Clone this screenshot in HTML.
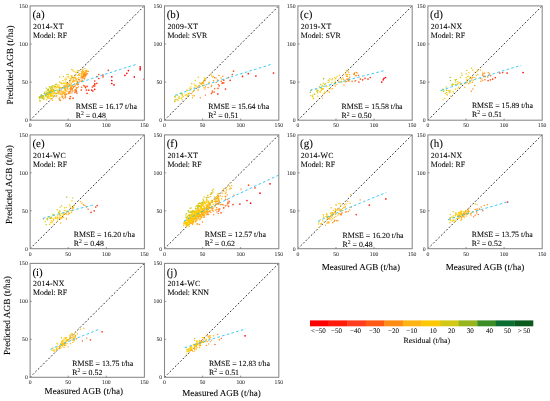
<!DOCTYPE html>
<html lang="en"><head><meta charset="utf-8"><title>AGB model scatter plots</title>
<style>html,body{margin:0;padding:0;background:#fff}svg{display:block}</style></head>
<body>
<svg width="550" height="401" viewBox="0 0 550 401" text-rendering="geometricPrecision" font-family="'Liberation Serif', 'Times New Roman', serif" fill="#000" stroke="#000" stroke-width="0.07" paint-order="stroke">
<rect width="550" height="401" fill="#fff" stroke="none"/>
<g>
<clipPath id="cpa"><rect x="30.1" y="5.9" width="114.3" height="114.3"/></clipPath>
<line x1="30.1" y1="120.2" x2="144.4" y2="5.9" stroke="#262626" stroke-width="0.95" stroke-dasharray="1.8 1.9"/>
<g stroke="none" clip-path="url(#cpa)"><circle cx="47.9" cy="89.7" r="0.72" fill="#d2c814"/><circle cx="51.6" cy="89.2" r="0.72" fill="#d2c814"/><circle cx="49.9" cy="93.5" r="0.72" fill="#ffc805"/><circle cx="42.4" cy="97.0" r="0.72" fill="#d2c814"/><circle cx="43.4" cy="96.2" r="0.72" fill="#d2c814"/><circle cx="51.3" cy="86.5" r="0.72" fill="#d2c814"/><circle cx="39.4" cy="98.4" r="0.72" fill="#d2c814"/><circle cx="50.6" cy="93.1" r="0.72" fill="#ffc805"/><circle cx="50.2" cy="91.1" r="0.72" fill="#d2c814"/><circle cx="45.7" cy="94.8" r="0.72" fill="#d2c814"/><circle cx="43.5" cy="96.1" r="0.72" fill="#d2c814"/><circle cx="43.1" cy="98.3" r="0.72" fill="#d2c814"/><circle cx="42.8" cy="96.0" r="0.72" fill="#d2c814"/><circle cx="45.4" cy="95.8" r="0.72" fill="#d2c814"/><circle cx="46.2" cy="91.1" r="0.72" fill="#d2c814"/><circle cx="46.9" cy="92.1" r="0.72" fill="#d2c814"/><circle cx="52.9" cy="91.0" r="0.72" fill="#ffc805"/><circle cx="50.2" cy="90.1" r="0.72" fill="#d2c814"/><circle cx="47.8" cy="94.5" r="0.72" fill="#d2c814"/><circle cx="52.9" cy="87.1" r="0.72" fill="#d2c814"/><circle cx="42.2" cy="96.3" r="0.72" fill="#d2c814"/><circle cx="41.5" cy="95.4" r="0.72" fill="#d2c814"/><circle cx="47.7" cy="97.3" r="0.72" fill="#ffc805"/><circle cx="39.9" cy="96.8" r="0.72" fill="#d2c814"/><circle cx="39.8" cy="100.5" r="0.72" fill="#d2c814"/><circle cx="46.4" cy="99.7" r="0.72" fill="#ffc805"/><circle cx="45.7" cy="95.3" r="0.72" fill="#d2c814"/><circle cx="51.9" cy="94.6" r="0.72" fill="#ffc805"/><circle cx="47.9" cy="92.9" r="0.72" fill="#d2c814"/><circle cx="46.3" cy="88.1" r="0.72" fill="#96b41e"/><circle cx="46.1" cy="96.6" r="0.72" fill="#d2c814"/><circle cx="42.7" cy="97.4" r="0.72" fill="#d2c814"/><circle cx="39.5" cy="97.3" r="0.72" fill="#d2c814"/><circle cx="41.9" cy="95.4" r="0.72" fill="#d2c814"/><circle cx="48.8" cy="93.5" r="0.72" fill="#d2c814"/><circle cx="42.0" cy="96.8" r="0.72" fill="#d2c814"/><circle cx="44.4" cy="93.5" r="0.72" fill="#d2c814"/><circle cx="39.3" cy="96.8" r="0.72" fill="#d2c814"/><circle cx="50.7" cy="95.5" r="0.72" fill="#ffc805"/><circle cx="41.4" cy="96.8" r="0.72" fill="#d2c814"/><circle cx="43.0" cy="95.8" r="0.72" fill="#d2c814"/><circle cx="51.4" cy="95.3" r="0.72" fill="#ffc805"/><circle cx="46.3" cy="93.5" r="0.72" fill="#d2c814"/><circle cx="50.9" cy="94.8" r="0.72" fill="#ffc805"/><circle cx="48.1" cy="90.5" r="0.72" fill="#d2c814"/><circle cx="49.5" cy="92.0" r="0.72" fill="#d2c814"/><circle cx="40.5" cy="96.9" r="0.72" fill="#d2c814"/><circle cx="46.7" cy="95.7" r="0.72" fill="#d2c814"/><circle cx="46.3" cy="94.6" r="0.72" fill="#d2c814"/><circle cx="51.2" cy="98.6" r="0.72" fill="#ffc805"/><circle cx="44.2" cy="98.0" r="0.72" fill="#d2c814"/><circle cx="47.5" cy="92.6" r="0.72" fill="#d2c814"/><circle cx="40.1" cy="101.3" r="0.72" fill="#d2c814"/><circle cx="44.6" cy="93.0" r="0.72" fill="#d2c814"/><circle cx="43.7" cy="99.6" r="0.72" fill="#ffc805"/><circle cx="41.4" cy="95.2" r="0.72" fill="#d2c814"/><circle cx="50.5" cy="94.9" r="0.72" fill="#ffc805"/><circle cx="44.5" cy="93.2" r="0.72" fill="#d2c814"/><circle cx="52.7" cy="90.5" r="0.72" fill="#ffc805"/><circle cx="47.4" cy="98.1" r="0.72" fill="#ffc805"/><circle cx="47.6" cy="89.9" r="0.72" fill="#d2c814"/><circle cx="48.0" cy="89.1" r="0.72" fill="#d2c814"/><circle cx="48.6" cy="93.3" r="0.72" fill="#d2c814"/><circle cx="41.4" cy="97.2" r="0.72" fill="#d2c814"/><circle cx="45.3" cy="95.1" r="0.72" fill="#d2c814"/><circle cx="42.6" cy="98.2" r="0.72" fill="#d2c814"/><circle cx="44.8" cy="92.2" r="0.72" fill="#d2c814"/><circle cx="40.6" cy="98.1" r="0.72" fill="#d2c814"/><circle cx="52.6" cy="91.3" r="0.72" fill="#ffc805"/><circle cx="42.2" cy="98.0" r="0.72" fill="#d2c814"/><circle cx="48.5" cy="95.0" r="0.72" fill="#ffc805"/><circle cx="43.4" cy="98.6" r="0.72" fill="#d2c814"/><circle cx="51.3" cy="87.4" r="0.72" fill="#d2c814"/><circle cx="48.4" cy="93.6" r="0.72" fill="#d2c814"/><circle cx="41.1" cy="94.9" r="0.72" fill="#d2c814"/><circle cx="54.9" cy="86.4" r="0.72" fill="#d2c814"/><circle cx="72.7" cy="76.1" r="0.72" fill="#ffc805"/><circle cx="68.6" cy="83.6" r="0.72" fill="#ffb414"/><circle cx="69.9" cy="92.2" r="0.72" fill="#ff8c14"/><circle cx="67.1" cy="85.6" r="0.72" fill="#ffb414"/><circle cx="78.0" cy="82.6" r="0.72" fill="#ff8c14"/><circle cx="57.6" cy="85.7" r="0.72" fill="#ffc805"/><circle cx="59.7" cy="77.0" r="0.72" fill="#d2c814"/><circle cx="53.4" cy="89.8" r="0.72" fill="#ffc805"/><circle cx="48.5" cy="95.5" r="0.72" fill="#ffc805"/><circle cx="53.7" cy="94.9" r="0.72" fill="#ffc805"/><circle cx="76.2" cy="79.1" r="0.72" fill="#ffb414"/><circle cx="73.8" cy="81.1" r="0.72" fill="#ffb414"/><circle cx="50.5" cy="96.0" r="0.72" fill="#ffc805"/><circle cx="66.2" cy="83.3" r="0.72" fill="#ffc805"/><circle cx="62.3" cy="91.7" r="0.72" fill="#ffb414"/><circle cx="65.9" cy="78.0" r="0.72" fill="#ffc805"/><circle cx="68.0" cy="76.9" r="0.72" fill="#ffc805"/><circle cx="56.7" cy="84.3" r="0.72" fill="#d2c814"/><circle cx="77.7" cy="81.3" r="0.72" fill="#ff8c14"/><circle cx="61.8" cy="83.7" r="0.72" fill="#ffc805"/><circle cx="67.0" cy="84.2" r="0.72" fill="#ffb414"/><circle cx="67.2" cy="85.6" r="0.72" fill="#ffb414"/><circle cx="52.8" cy="92.1" r="0.72" fill="#ffc805"/><circle cx="48.9" cy="97.0" r="0.72" fill="#ffc805"/><circle cx="60.1" cy="93.8" r="0.72" fill="#ffb414"/><circle cx="71.4" cy="76.3" r="0.72" fill="#ffc805"/><circle cx="73.0" cy="81.6" r="0.72" fill="#ffb414"/><circle cx="70.3" cy="80.5" r="0.72" fill="#ffb414"/><circle cx="50.5" cy="88.7" r="0.72" fill="#d2c814"/><circle cx="76.1" cy="90.6" r="0.72" fill="#ff5a14"/><circle cx="72.6" cy="85.6" r="0.72" fill="#ff8c14"/><circle cx="75.0" cy="78.2" r="0.72" fill="#ffb414"/><circle cx="63.7" cy="83.2" r="0.72" fill="#ffc805"/><circle cx="76.2" cy="81.3" r="0.72" fill="#ffb414"/><circle cx="48.4" cy="90.0" r="0.72" fill="#d2c814"/><circle cx="47.9" cy="92.8" r="0.72" fill="#d2c814"/><circle cx="47.6" cy="97.2" r="0.72" fill="#ffc805"/><circle cx="55.0" cy="93.4" r="0.72" fill="#ffc805"/><circle cx="54.9" cy="86.6" r="0.72" fill="#d2c814"/><circle cx="52.9" cy="89.1" r="0.72" fill="#d2c814"/><circle cx="65.1" cy="94.6" r="0.72" fill="#ff8c14"/><circle cx="48.2" cy="89.2" r="0.72" fill="#d2c814"/><circle cx="65.8" cy="80.9" r="0.72" fill="#ffc805"/><circle cx="52.2" cy="86.4" r="0.72" fill="#d2c814"/><circle cx="68.6" cy="84.9" r="0.72" fill="#ffb414"/><circle cx="47.6" cy="94.5" r="0.72" fill="#d2c814"/><circle cx="56.9" cy="93.5" r="0.72" fill="#ffb414"/><circle cx="76.9" cy="72.2" r="0.72" fill="#ffc805"/><circle cx="64.1" cy="85.9" r="0.72" fill="#ffc805"/><circle cx="72.9" cy="70.3" r="0.72" fill="#ffc805"/><circle cx="68.0" cy="86.7" r="0.72" fill="#ffb414"/><circle cx="66.5" cy="82.9" r="0.72" fill="#ffc805"/><circle cx="53.0" cy="97.0" r="0.72" fill="#ffc805"/><circle cx="65.3" cy="86.4" r="0.72" fill="#ffb414"/><circle cx="48.2" cy="90.3" r="0.72" fill="#d2c814"/><circle cx="72.6" cy="88.5" r="0.72" fill="#ff8c14"/><circle cx="77.6" cy="70.7" r="0.72" fill="#ffc805"/><circle cx="74.2" cy="77.5" r="0.72" fill="#ffb414"/><circle cx="48.5" cy="96.3" r="0.72" fill="#ffc805"/><circle cx="57.8" cy="90.5" r="0.72" fill="#ffc805"/><circle cx="57.1" cy="90.6" r="0.72" fill="#ffc805"/><circle cx="50.5" cy="92.2" r="0.72" fill="#ffc805"/><circle cx="67.0" cy="86.5" r="0.72" fill="#ffb414"/><circle cx="72.4" cy="85.9" r="0.72" fill="#ff8c14"/><circle cx="57.0" cy="90.0" r="0.72" fill="#ffc805"/><circle cx="74.5" cy="86.4" r="0.72" fill="#ff8c14"/><circle cx="72.4" cy="88.8" r="0.72" fill="#ff8c14"/><circle cx="51.0" cy="92.0" r="0.72" fill="#ffc805"/><circle cx="71.5" cy="75.7" r="0.72" fill="#ffc805"/><circle cx="75.2" cy="89.5" r="0.72" fill="#ff8c14"/><circle cx="53.2" cy="90.7" r="0.72" fill="#ffc805"/><circle cx="65.3" cy="87.9" r="0.72" fill="#ffb414"/><circle cx="67.4" cy="88.8" r="0.72" fill="#ffb414"/><circle cx="66.4" cy="79.1" r="0.72" fill="#ffc805"/><circle cx="50.0" cy="94.1" r="0.72" fill="#ffc805"/><circle cx="68.1" cy="74.4" r="0.72" fill="#d2c814"/><circle cx="67.1" cy="87.8" r="0.72" fill="#ffb414"/><circle cx="73.3" cy="77.8" r="0.72" fill="#ffb414"/><circle cx="72.6" cy="82.0" r="0.72" fill="#ffb414"/><circle cx="57.4" cy="91.7" r="0.72" fill="#ffc805"/><circle cx="70.0" cy="78.4" r="0.72" fill="#ffc805"/><circle cx="74.7" cy="80.5" r="0.72" fill="#ffb414"/><circle cx="75.5" cy="75.0" r="0.72" fill="#ffb414"/><circle cx="52.1" cy="91.4" r="0.72" fill="#ffc805"/><circle cx="47.8" cy="96.8" r="0.72" fill="#ffc805"/><circle cx="67.7" cy="83.7" r="0.72" fill="#ffb414"/><circle cx="53.8" cy="90.2" r="0.72" fill="#ffc805"/><circle cx="65.0" cy="79.5" r="0.72" fill="#ffc805"/><circle cx="77.2" cy="84.5" r="0.72" fill="#ff8c14"/><circle cx="59.1" cy="87.8" r="0.72" fill="#ffc805"/><circle cx="55.0" cy="96.6" r="0.72" fill="#ffb414"/><circle cx="61.5" cy="83.2" r="0.72" fill="#ffc805"/><circle cx="67.9" cy="89.2" r="0.72" fill="#ffb414"/><circle cx="50.1" cy="98.3" r="0.72" fill="#ffc805"/><circle cx="59.1" cy="87.9" r="0.72" fill="#ffc805"/><circle cx="51.2" cy="87.9" r="0.72" fill="#d2c814"/><circle cx="68.1" cy="91.7" r="0.72" fill="#ff8c14"/><circle cx="73.5" cy="87.2" r="0.72" fill="#ff8c14"/><circle cx="59.0" cy="91.0" r="0.72" fill="#ffc805"/><circle cx="58.8" cy="92.8" r="0.72" fill="#ffb414"/><circle cx="64.2" cy="83.0" r="0.72" fill="#ffc805"/><circle cx="53.8" cy="93.4" r="0.72" fill="#ffc805"/><circle cx="54.8" cy="92.7" r="0.72" fill="#ffc805"/><circle cx="57.5" cy="86.0" r="0.72" fill="#ffc805"/><circle cx="61.6" cy="90.0" r="0.72" fill="#ffb414"/><circle cx="49.5" cy="91.2" r="0.72" fill="#d2c814"/><circle cx="71.0" cy="87.4" r="0.72" fill="#ff8c14"/><circle cx="65.4" cy="90.8" r="0.72" fill="#ffb414"/><circle cx="56.5" cy="96.6" r="0.72" fill="#ffb414"/><circle cx="49.4" cy="86.7" r="0.72" fill="#d2c814"/><circle cx="71.3" cy="83.2" r="0.72" fill="#ffb414"/><circle cx="51.1" cy="90.9" r="0.72" fill="#d2c814"/><circle cx="51.2" cy="91.8" r="0.72" fill="#ffc805"/><circle cx="51.1" cy="91.2" r="0.72" fill="#d2c814"/><circle cx="49.5" cy="92.4" r="0.72" fill="#d2c814"/><circle cx="75.9" cy="72.2" r="0.72" fill="#ffc805"/><circle cx="55.5" cy="93.7" r="0.72" fill="#ffc805"/><circle cx="56.7" cy="95.4" r="0.72" fill="#ffb414"/><circle cx="73.6" cy="86.6" r="0.72" fill="#ff8c14"/><circle cx="66.8" cy="91.0" r="0.72" fill="#ffb414"/><circle cx="52.9" cy="88.1" r="0.72" fill="#d2c814"/><circle cx="60.8" cy="82.8" r="0.72" fill="#ffc805"/><circle cx="75.2" cy="85.7" r="0.72" fill="#ff8c14"/><circle cx="58.9" cy="94.0" r="0.72" fill="#ffb414"/><circle cx="69.7" cy="84.2" r="0.72" fill="#ffb414"/><circle cx="50.0" cy="87.8" r="0.72" fill="#d2c814"/><circle cx="70.2" cy="98.8" r="0.72" fill="#ff5a14"/><circle cx="71.8" cy="77.8" r="0.72" fill="#ffc805"/><circle cx="73.3" cy="87.1" r="0.72" fill="#ff8c14"/><circle cx="68.5" cy="76.7" r="0.72" fill="#ffc805"/><circle cx="58.8" cy="92.6" r="0.72" fill="#ffb414"/><circle cx="49.0" cy="93.8" r="0.72" fill="#ffc805"/><circle cx="63.5" cy="93.0" r="0.72" fill="#ffb414"/><circle cx="71.2" cy="87.4" r="0.72" fill="#ff8c14"/><circle cx="53.0" cy="85.7" r="0.72" fill="#d2c814"/><circle cx="55.4" cy="86.2" r="0.72" fill="#d2c814"/><circle cx="64.1" cy="87.1" r="0.72" fill="#ffb414"/><circle cx="70.9" cy="86.8" r="0.72" fill="#ffb414"/><circle cx="75.6" cy="91.8" r="0.72" fill="#ff5a14"/><circle cx="50.9" cy="93.2" r="0.72" fill="#ffc805"/><circle cx="52.8" cy="91.0" r="0.72" fill="#ffc805"/><circle cx="72.5" cy="81.2" r="0.72" fill="#ffb414"/><circle cx="67.5" cy="83.8" r="0.72" fill="#ffb414"/><circle cx="70.0" cy="88.7" r="0.72" fill="#ff8c14"/><circle cx="78.8" cy="77.8" r="0.72" fill="#ffb414"/><circle cx="77.0" cy="78.6" r="0.72" fill="#ffb414"/><circle cx="73.9" cy="71.5" r="0.72" fill="#ffc805"/><circle cx="71.8" cy="69.4" r="0.72" fill="#d2c814"/><circle cx="59.6" cy="88.0" r="0.72" fill="#ffc805"/><circle cx="67.4" cy="87.6" r="0.72" fill="#ffb414"/><circle cx="52.8" cy="91.1" r="0.72" fill="#ffc805"/><circle cx="71.2" cy="85.1" r="0.72" fill="#ffb414"/><circle cx="71.2" cy="85.9" r="0.72" fill="#ffb414"/><circle cx="70.0" cy="82.3" r="0.72" fill="#ffb414"/><circle cx="61.1" cy="91.6" r="0.72" fill="#ffb414"/><circle cx="59.0" cy="84.9" r="0.72" fill="#ffc805"/><circle cx="60.3" cy="87.5" r="0.72" fill="#ffc805"/><circle cx="48.0" cy="92.6" r="0.72" fill="#d2c814"/><circle cx="73.9" cy="81.1" r="0.72" fill="#ffb414"/><circle cx="64.3" cy="88.7" r="0.72" fill="#ffb414"/><circle cx="59.3" cy="91.8" r="0.72" fill="#ffb414"/><circle cx="64.5" cy="86.1" r="0.72" fill="#ffb414"/><circle cx="70.0" cy="85.2" r="0.72" fill="#ffb414"/><circle cx="59.1" cy="86.6" r="0.72" fill="#ffc805"/><circle cx="73.5" cy="80.2" r="0.72" fill="#ffb414"/><circle cx="76.3" cy="88.0" r="0.72" fill="#ff8c14"/><circle cx="59.3" cy="87.2" r="0.72" fill="#ffc805"/><circle cx="51.3" cy="96.3" r="0.72" fill="#ffc805"/><circle cx="71.2" cy="85.1" r="0.72" fill="#ffb414"/><circle cx="78.7" cy="79.5" r="0.72" fill="#ff8c14"/><circle cx="51.7" cy="98.8" r="0.72" fill="#ffb414"/><circle cx="69.7" cy="81.6" r="0.72" fill="#ffb414"/><circle cx="73.3" cy="79.2" r="0.72" fill="#ffb414"/><circle cx="76.4" cy="79.7" r="0.72" fill="#ffb414"/><circle cx="50.9" cy="93.3" r="0.72" fill="#ffc805"/><circle cx="49.9" cy="93.7" r="0.72" fill="#ffc805"/><circle cx="78.5" cy="84.5" r="0.72" fill="#ff8c14"/><circle cx="50.7" cy="92.9" r="0.72" fill="#ffc805"/><circle cx="52.6" cy="93.0" r="0.72" fill="#ffc805"/><circle cx="65.3" cy="83.9" r="0.72" fill="#ffc805"/><circle cx="61.2" cy="92.3" r="0.72" fill="#ffb414"/><circle cx="70.9" cy="80.0" r="0.72" fill="#ffb414"/><circle cx="53.0" cy="90.3" r="0.72" fill="#ffc805"/><circle cx="76.2" cy="79.7" r="0.72" fill="#ffb414"/><circle cx="53.9" cy="92.0" r="0.72" fill="#ffc805"/><circle cx="71.5" cy="77.7" r="0.72" fill="#ffc805"/><circle cx="49.1" cy="98.1" r="0.72" fill="#ffc805"/><circle cx="62.1" cy="83.8" r="0.72" fill="#ffc805"/><circle cx="48.0" cy="92.7" r="0.72" fill="#d2c814"/><circle cx="57.0" cy="87.5" r="0.72" fill="#ffc805"/><circle cx="56.9" cy="87.1" r="0.72" fill="#ffc805"/><circle cx="69.9" cy="85.9" r="0.72" fill="#ffb414"/><circle cx="61.5" cy="87.6" r="0.72" fill="#ffc805"/><circle cx="48.7" cy="91.0" r="0.72" fill="#d2c814"/><circle cx="78.8" cy="74.3" r="0.72" fill="#ffb414"/><circle cx="75.4" cy="77.8" r="0.72" fill="#ffb414"/><circle cx="76.2" cy="89.1" r="0.72" fill="#ff8c14"/><circle cx="54.8" cy="87.7" r="0.72" fill="#d2c814"/><circle cx="59.5" cy="82.0" r="0.72" fill="#d2c814"/><circle cx="54.2" cy="86.3" r="0.72" fill="#d2c814"/><circle cx="50.9" cy="91.1" r="0.72" fill="#d2c814"/><circle cx="48.0" cy="98.1" r="0.72" fill="#ffc805"/><circle cx="63.0" cy="80.8" r="0.72" fill="#ffc805"/><circle cx="50.9" cy="92.4" r="0.72" fill="#ffc805"/><circle cx="52.6" cy="100.2" r="0.72" fill="#ffb414"/><circle cx="74.5" cy="77.2" r="0.72" fill="#ffb414"/><circle cx="62.4" cy="93.3" r="0.72" fill="#ffb414"/><circle cx="52.8" cy="95.7" r="0.72" fill="#ffc805"/><circle cx="68.4" cy="86.5" r="0.72" fill="#ffb414"/><circle cx="55.4" cy="84.4" r="0.72" fill="#d2c814"/><circle cx="63.8" cy="87.1" r="0.72" fill="#ffb414"/><circle cx="56.0" cy="88.1" r="0.72" fill="#ffc805"/><circle cx="63.4" cy="76.4" r="0.72" fill="#d2c814"/><circle cx="67.0" cy="74.6" r="0.72" fill="#d2c814"/><circle cx="64.1" cy="85.6" r="0.72" fill="#ffc805"/><circle cx="59.6" cy="88.5" r="0.72" fill="#ffc805"/><circle cx="72.2" cy="88.7" r="0.72" fill="#ff8c14"/><circle cx="74.9" cy="84.0" r="0.72" fill="#ff8c14"/><circle cx="52.7" cy="89.4" r="0.72" fill="#d2c814"/><circle cx="51.3" cy="90.3" r="0.72" fill="#d2c814"/><circle cx="50.5" cy="91.7" r="0.72" fill="#d2c814"/><circle cx="78.3" cy="70.6" r="0.72" fill="#ffc805"/><circle cx="77.0" cy="83.6" r="0.72" fill="#ff8c14"/><circle cx="54.3" cy="90.3" r="0.72" fill="#ffc805"/><circle cx="85.3" cy="72.2" r="0.72" fill="#ffb414"/><circle cx="84.9" cy="68.6" r="0.72" fill="#ffb414"/><circle cx="86.1" cy="73.5" r="0.72" fill="#ff8c14"/><circle cx="84.5" cy="73.6" r="0.72" fill="#ff8c14"/><circle cx="82.7" cy="70.7" r="0.72" fill="#ffb414"/><circle cx="84.4" cy="74.6" r="0.72" fill="#ff8c14"/><circle cx="81.0" cy="77.9" r="0.72" fill="#ff8c14"/><circle cx="79.5" cy="75.4" r="0.72" fill="#ffb414"/><circle cx="84.9" cy="72.8" r="0.72" fill="#ffb414"/><circle cx="83.4" cy="76.8" r="0.72" fill="#ff8c14"/><circle cx="84.2" cy="78.8" r="0.72" fill="#ff8c14"/><circle cx="79.4" cy="79.7" r="0.72" fill="#ff8c14"/><circle cx="82.6" cy="72.9" r="0.72" fill="#ffb414"/><circle cx="82.0" cy="77.0" r="0.72" fill="#ff8c14"/><circle cx="81.4" cy="75.5" r="0.72" fill="#ffb414"/><circle cx="78.0" cy="75.5" r="0.72" fill="#ffb414"/><circle cx="82.7" cy="73.0" r="0.72" fill="#ffb414"/><circle cx="85.7" cy="74.7" r="0.72" fill="#ff8c14"/><circle cx="84.4" cy="72.8" r="0.72" fill="#ffb414"/><circle cx="82.0" cy="77.4" r="0.72" fill="#ff8c14"/><circle cx="83.5" cy="75.5" r="0.72" fill="#ff8c14"/><circle cx="85.3" cy="76.7" r="0.72" fill="#ff8c14"/><circle cx="86.4" cy="70.5" r="0.72" fill="#ffb414"/><circle cx="83.2" cy="74.6" r="0.72" fill="#ffb414"/><circle cx="84.8" cy="76.1" r="0.72" fill="#ff8c14"/><circle cx="85.2" cy="74.9" r="0.72" fill="#ff8c14"/><circle cx="87.6" cy="73.8" r="0.72" fill="#ff8c14"/><circle cx="86.3" cy="71.7" r="0.72" fill="#ff8c14"/><circle cx="84.3" cy="78.6" r="0.72" fill="#ff8c14"/><circle cx="84.2" cy="77.1" r="0.72" fill="#ff8c14"/><circle cx="85.4" cy="74.9" r="0.72" fill="#ff8c14"/><circle cx="82.2" cy="69.1" r="0.72" fill="#ffb414"/><circle cx="83.4" cy="71.9" r="0.72" fill="#ffb414"/><circle cx="85.7" cy="74.1" r="0.72" fill="#ff8c14"/><circle cx="88.3" cy="71.4" r="0.72" fill="#ff8c14"/><circle cx="83.1" cy="69.1" r="0.72" fill="#ffb414"/><circle cx="83.4" cy="75.2" r="0.72" fill="#ff8c14"/><circle cx="84.0" cy="75.3" r="0.72" fill="#ff8c14"/><circle cx="86.8" cy="70.2" r="0.72" fill="#ffb414"/><circle cx="83.4" cy="73.1" r="0.72" fill="#ffb414"/><circle cx="87.1" cy="71.6" r="0.72" fill="#ff8c14"/><circle cx="81.1" cy="76.6" r="0.72" fill="#ffb414"/><circle cx="83.0" cy="71.4" r="0.72" fill="#ffb414"/><circle cx="83.0" cy="71.4" r="0.72" fill="#ffb414"/><circle cx="85.4" cy="72.4" r="0.72" fill="#ffb414"/><circle cx="86.0" cy="71.8" r="0.72" fill="#ffb414"/><circle cx="79.8" cy="81.1" r="0.72" fill="#ff8c14"/><circle cx="81.3" cy="73.4" r="0.72" fill="#ffb414"/><circle cx="84.3" cy="74.8" r="0.72" fill="#ff8c14"/><circle cx="81.9" cy="73.8" r="0.72" fill="#ffb414"/><circle cx="79.8" cy="73.7" r="0.72" fill="#ffb414"/><circle cx="86.0" cy="74.7" r="0.72" fill="#ff8c14"/><circle cx="84.7" cy="78.8" r="0.72" fill="#ff8c14"/><circle cx="84.7" cy="73.1" r="0.72" fill="#ffb414"/><circle cx="82.3" cy="76.9" r="0.72" fill="#ff8c14"/><circle cx="86.0" cy="74.6" r="0.72" fill="#ff8c14"/><circle cx="82.9" cy="76.3" r="0.72" fill="#ff8c14"/><circle cx="86.2" cy="74.6" r="0.72" fill="#ff8c14"/><circle cx="81.3" cy="81.5" r="0.72" fill="#ff8c14"/><circle cx="81.4" cy="71.8" r="0.72" fill="#ffb414"/><circle cx="84.0" cy="73.6" r="0.72" fill="#ffb414"/><circle cx="81.8" cy="71.9" r="0.72" fill="#ffb414"/><circle cx="85.1" cy="70.7" r="0.72" fill="#ffb414"/><circle cx="84.1" cy="74.2" r="0.72" fill="#ff8c14"/><circle cx="81.2" cy="80.1" r="0.72" fill="#ff8c14"/><circle cx="83.7" cy="76.9" r="0.72" fill="#ff8c14"/><circle cx="82.6" cy="78.0" r="0.72" fill="#ff8c14"/><circle cx="85.7" cy="75.2" r="0.72" fill="#ff8c14"/><circle cx="81.9" cy="74.7" r="0.72" fill="#ffb414"/><circle cx="82.4" cy="80.3" r="0.72" fill="#ff8c14"/><circle cx="66.3" cy="94.2" r="0.72" fill="#ff8c14"/><circle cx="76.6" cy="91.6" r="0.72" fill="#ff5a14"/><circle cx="83.8" cy="85.6" r="0.84" fill="#ff5a14"/><circle cx="78.4" cy="86.9" r="0.72" fill="#ff8c14"/><circle cx="66.4" cy="86.3" r="0.72" fill="#ffb414"/><circle cx="65.5" cy="97.8" r="0.72" fill="#ff8c14"/><circle cx="70.6" cy="87.9" r="0.72" fill="#ff8c14"/><circle cx="62.5" cy="93.5" r="0.72" fill="#ffb414"/><circle cx="68.2" cy="93.8" r="0.72" fill="#ff8c14"/><circle cx="65.2" cy="89.8" r="0.72" fill="#ffb414"/><circle cx="76.9" cy="93.0" r="0.84" fill="#ff5a14"/><circle cx="73.1" cy="98.2" r="0.84" fill="#ff5a14"/><circle cx="81.2" cy="90.1" r="0.84" fill="#ff5a14"/><circle cx="70.5" cy="96.5" r="0.72" fill="#ff5a14"/><circle cx="61.8" cy="95.0" r="0.72" fill="#ffb414"/><circle cx="72.2" cy="89.0" r="0.72" fill="#ff8c14"/><circle cx="87.1" cy="86.3" r="0.84" fill="#ff3c1e"/><circle cx="69.6" cy="84.9" r="0.72" fill="#ffb414"/><circle cx="74.8" cy="90.7" r="0.72" fill="#ff8c14"/><circle cx="87.1" cy="93.3" r="0.84" fill="#ff3c1e"/><circle cx="74.9" cy="92.8" r="0.72" fill="#ff5a14"/><circle cx="91.7" cy="90.1" r="0.84" fill="#ff1a0a"/><circle cx="92.8" cy="91.0" r="0.84" fill="#ff1a0a"/><circle cx="71.5" cy="88.9" r="0.72" fill="#ff8c14"/><circle cx="86.4" cy="90.1" r="0.84" fill="#ff3c1e"/><circle cx="69.5" cy="98.5" r="0.72" fill="#ff5a14"/><circle cx="65.5" cy="89.1" r="0.72" fill="#ffb414"/><circle cx="76.0" cy="90.1" r="0.72" fill="#ff5a14"/><circle cx="81.7" cy="87.2" r="0.72" fill="#ff5a14"/><circle cx="93.4" cy="85.8" r="0.84" fill="#ff3c1e"/><circle cx="65.7" cy="89.3" r="0.72" fill="#ffb414"/><circle cx="85.6" cy="87.6" r="0.84" fill="#ff3c1e"/><circle cx="77.3" cy="84.7" r="0.72" fill="#ff8c14"/><circle cx="65.2" cy="90.2" r="0.72" fill="#ffb414"/><circle cx="94.7" cy="84.5" r="0.84" fill="#ff3c1e"/><circle cx="85.0" cy="86.3" r="0.84" fill="#ff5a14"/><circle cx="65.1" cy="97.4" r="0.72" fill="#ff8c14"/><circle cx="92.4" cy="87.0" r="0.84" fill="#ff3c1e"/><circle cx="64.2" cy="93.0" r="0.72" fill="#ffb414"/><circle cx="63.9" cy="91.3" r="0.72" fill="#ffb414"/><circle cx="65.9" cy="90.6" r="0.72" fill="#ffb414"/><circle cx="65.0" cy="94.3" r="0.72" fill="#ff8c14"/><circle cx="70.7" cy="88.7" r="0.72" fill="#ff8c14"/><circle cx="62.5" cy="97.6" r="0.72" fill="#ff8c14"/><circle cx="61.1" cy="94.6" r="0.72" fill="#ffb414"/><circle cx="71.9" cy="92.8" r="0.72" fill="#ff8c14"/><circle cx="72.9" cy="91.0" r="0.72" fill="#ff8c14"/><circle cx="64.5" cy="88.6" r="0.72" fill="#ffb414"/><circle cx="70.7" cy="89.7" r="0.72" fill="#ff8c14"/><circle cx="59.7" cy="99.2" r="0.72" fill="#ff8c14"/><circle cx="66.5" cy="94.3" r="0.72" fill="#ff8c14"/><circle cx="69.7" cy="91.5" r="0.72" fill="#ff8c14"/><circle cx="63.7" cy="92.4" r="0.72" fill="#ffb414"/><circle cx="65.5" cy="96.0" r="0.72" fill="#ff8c14"/><circle cx="70.3" cy="96.7" r="0.72" fill="#ff5a14"/><circle cx="69.9" cy="93.0" r="0.72" fill="#ff8c14"/><circle cx="61.9" cy="96.6" r="0.72" fill="#ff8c14"/><circle cx="72.0" cy="90.8" r="0.72" fill="#ff8c14"/><circle cx="60.6" cy="93.9" r="0.72" fill="#ffb414"/><circle cx="76.8" cy="87.6" r="0.72" fill="#ff8c14"/><circle cx="62.8" cy="94.0" r="0.72" fill="#ffb414"/><circle cx="63.7" cy="98.6" r="0.72" fill="#ff8c14"/><circle cx="62.8" cy="93.8" r="0.72" fill="#ffb414"/><circle cx="77.2" cy="82.6" r="0.72" fill="#ff8c14"/><circle cx="64.3" cy="93.2" r="0.72" fill="#ffb414"/><circle cx="70.2" cy="91.4" r="0.72" fill="#ff8c14"/><circle cx="77.2" cy="87.8" r="0.72" fill="#ff8c14"/><circle cx="76.5" cy="83.9" r="0.72" fill="#ff8c14"/><circle cx="59.9" cy="100.2" r="0.72" fill="#ff8c14"/><circle cx="68.6" cy="93.2" r="0.72" fill="#ff8c14"/><circle cx="70.1" cy="90.9" r="0.72" fill="#ff8c14"/><circle cx="72.0" cy="89.1" r="0.72" fill="#ff8c14"/><circle cx="65.2" cy="96.0" r="0.72" fill="#ff8c14"/><circle cx="65.1" cy="94.1" r="0.72" fill="#ff8c14"/><circle cx="59.2" cy="98.9" r="0.72" fill="#ff8c14"/><circle cx="59.8" cy="97.5" r="0.72" fill="#ffb414"/><circle cx="69.2" cy="93.0" r="0.72" fill="#ff8c14"/><circle cx="60.5" cy="100.5" r="0.72" fill="#ff8c14"/><circle cx="62.8" cy="96.2" r="0.72" fill="#ff8c14"/><circle cx="65.2" cy="92.5" r="0.72" fill="#ffb414"/><circle cx="108.3" cy="70.3" r="0.84" fill="#ff3c1e"/><circle cx="111.8" cy="76.8" r="0.84" fill="#ff0000"/><circle cx="111.8" cy="80.5" r="0.84" fill="#ff0000"/><circle cx="111.8" cy="83.5" r="0.84" fill="#ff0000"/><circle cx="114.0" cy="84.9" r="0.84" fill="#ff0000"/><circle cx="103.0" cy="75.0" r="0.84" fill="#ff3c1e"/><circle cx="103.0" cy="76.8" r="0.84" fill="#ff3c1e"/><circle cx="98.7" cy="74.5" r="0.84" fill="#ff5a14"/><circle cx="98.7" cy="78.5" r="0.84" fill="#ff3c1e"/><circle cx="96.9" cy="76.5" r="0.84" fill="#ff3c1e"/><circle cx="96.9" cy="83.3" r="0.84" fill="#ff3c1e"/><circle cx="94.7" cy="81.0" r="0.84" fill="#ff3c1e"/><circle cx="94.7" cy="83.5" r="0.84" fill="#ff3c1e"/><circle cx="94.7" cy="86.0" r="0.84" fill="#ff3c1e"/><circle cx="94.7" cy="89.3" r="0.84" fill="#ff1a0a"/><circle cx="88.7" cy="90.2" r="0.84" fill="#ff3c1e"/><circle cx="124.9" cy="75.3" r="0.84" fill="#ff0000"/><circle cx="126.8" cy="73.3" r="0.84" fill="#ff0000"/><circle cx="128.4" cy="70.6" r="0.84" fill="#ff0000"/><circle cx="134.3" cy="76.9" r="0.84" fill="#ff0000"/><circle cx="140.2" cy="66.8" r="0.84" fill="#ff0000"/><circle cx="140.2" cy="68.3" r="0.84" fill="#ff0000"/><circle cx="140.2" cy="69.8" r="0.84" fill="#ff0000"/><circle cx="144.2" cy="79.3" r="0.84" fill="#ff0000"/></g>
<path d="M40.1 96.3 L44.1 94.7 L48.1 93.2 L52.2 91.8 L56.2 90.4 L60.2 89.0 L64.2 87.7 L68.3 86.3 L72.3 85.0 L76.3 83.6 L80.4 82.3 L84.4 81.0 L88.4 79.7 L92.5 78.4 L96.5 77.0 L100.5 75.7 L104.6 74.4 L108.6 73.2 L112.6 71.9 L116.7 70.6 L120.7 69.3 L124.7 68.0 L128.8 66.7 L132.8 65.5 L136.8 64.2" fill="none" stroke="#2ec6f2" stroke-width="0.95" stroke-dasharray="2.6 2.3" clip-path="url(#cpa)"/>
<rect x="30.1" y="5.9" width="114.3" height="114.3" fill="none" stroke="#878787" stroke-width="1.05"/>
<path d="M68.2 120.2v-1.7M30.1 82.1h1.7M106.3 120.2v-1.7M30.1 44.0h1.7" stroke="#555" stroke-width="0.6" fill="none"/>
<text x="30.1" y="127.2" font-size="5.7" stroke-width="0.03" fill="#1a1a1a" text-anchor="middle">0</text>
<text x="27.8" y="122.1" font-size="5.7" stroke-width="0.03" fill="#1a1a1a" text-anchor="end">0</text>
<text x="68.2" y="127.2" font-size="5.7" stroke-width="0.03" fill="#1a1a1a" text-anchor="middle">50</text>
<text x="27.8" y="84.0" font-size="5.7" stroke-width="0.03" fill="#1a1a1a" text-anchor="end">50</text>
<text x="106.3" y="127.2" font-size="5.7" stroke-width="0.03" fill="#1a1a1a" text-anchor="middle">100</text>
<text x="27.8" y="45.9" font-size="5.7" stroke-width="0.03" fill="#1a1a1a" text-anchor="end">100</text>
<text x="144.4" y="127.2" font-size="5.7" stroke-width="0.03" fill="#1a1a1a" text-anchor="middle">150</text>
<text x="27.8" y="7.8" font-size="5.7" stroke-width="0.03" fill="#1a1a1a" text-anchor="end">150</text>
<text x="32.4" y="18.0" font-size="11">(a)</text>
<text x="33.0" y="28.5" font-size="7.85" letter-spacing="0.3">2014-XT</text>
<text x="33.0" y="37.6" font-size="7.85">Model: RF</text>
<text x="75.8" y="108.5" font-size="7.85">RMSE = 16.17 t/ha</text>
<text x="75.8" y="117.6" font-size="7.85">R<tspan font-size="5.7" dy="-2.9">2</tspan><tspan dy="2.9"> = 0.48</tspan></text>
</g>
<g>
<clipPath id="cpb"><rect x="164.5" y="5.9" width="114.3" height="114.3"/></clipPath>
<line x1="164.5" y1="120.2" x2="278.8" y2="5.9" stroke="#262626" stroke-width="0.95" stroke-dasharray="1.8 1.9"/>
<g stroke="none" clip-path="url(#cpb)"><circle cx="186.8" cy="90.1" r="0.72" fill="#d2c814"/><circle cx="186.4" cy="94.7" r="0.72" fill="#ffc805"/><circle cx="181.3" cy="98.4" r="0.72" fill="#ffc805"/><circle cx="177.1" cy="99.5" r="0.72" fill="#d2c814"/><circle cx="174.9" cy="96.8" r="0.72" fill="#d2c814"/><circle cx="187.4" cy="96.8" r="0.72" fill="#ffc805"/><circle cx="189.3" cy="88.1" r="0.72" fill="#ffc805"/><circle cx="178.1" cy="100.2" r="0.72" fill="#ffc805"/><circle cx="187.6" cy="95.8" r="0.72" fill="#ffc805"/><circle cx="180.5" cy="93.2" r="0.72" fill="#d2c814"/><circle cx="179.2" cy="98.0" r="0.72" fill="#ffc805"/><circle cx="182.1" cy="99.7" r="0.72" fill="#ffc805"/><circle cx="174.5" cy="101.5" r="0.72" fill="#d2c814"/><circle cx="181.2" cy="93.8" r="0.72" fill="#d2c814"/><circle cx="177.4" cy="95.3" r="0.72" fill="#d2c814"/><circle cx="185.3" cy="95.3" r="0.72" fill="#ffc805"/><circle cx="182.1" cy="94.8" r="0.72" fill="#d2c814"/><circle cx="187.6" cy="90.5" r="0.72" fill="#ffc805"/><circle cx="188.1" cy="94.2" r="0.72" fill="#ffc805"/><circle cx="179.2" cy="96.6" r="0.72" fill="#d2c814"/><circle cx="178.7" cy="98.1" r="0.72" fill="#d2c814"/><circle cx="188.7" cy="93.5" r="0.72" fill="#ffc805"/><circle cx="182.1" cy="97.4" r="0.72" fill="#ffc805"/><circle cx="175.9" cy="99.5" r="0.72" fill="#d2c814"/><circle cx="175.1" cy="100.0" r="0.72" fill="#d2c814"/><circle cx="189.5" cy="93.1" r="0.72" fill="#ffc805"/><circle cx="183.2" cy="96.5" r="0.72" fill="#ffc805"/><circle cx="175.2" cy="96.8" r="0.72" fill="#d2c814"/><circle cx="182.2" cy="95.2" r="0.72" fill="#ffc805"/><circle cx="182.1" cy="93.4" r="0.72" fill="#d2c814"/><circle cx="197.5" cy="86.8" r="0.72" fill="#ffc805"/><circle cx="197.1" cy="86.8" r="0.72" fill="#ffc805"/><circle cx="203.4" cy="81.7" r="0.72" fill="#ffb414"/><circle cx="194.3" cy="87.6" r="0.72" fill="#ffc805"/><circle cx="202.5" cy="85.2" r="0.72" fill="#ffb414"/><circle cx="194.2" cy="84.1" r="0.72" fill="#ffc805"/><circle cx="201.2" cy="84.3" r="0.72" fill="#ffb414"/><circle cx="195.0" cy="85.7" r="0.72" fill="#ffc805"/><circle cx="199.3" cy="87.3" r="0.72" fill="#ffb414"/><circle cx="204.5" cy="79.0" r="0.72" fill="#ffc805"/><circle cx="190.5" cy="89.3" r="0.72" fill="#ffc805"/><circle cx="202.6" cy="83.3" r="0.72" fill="#ffb414"/><circle cx="198.3" cy="77.2" r="0.72" fill="#d2c814"/><circle cx="195.7" cy="85.5" r="0.72" fill="#ffc805"/><circle cx="195.3" cy="80.5" r="0.72" fill="#d2c814"/><circle cx="190.8" cy="86.9" r="0.72" fill="#ffc805"/><circle cx="193.8" cy="90.9" r="0.72" fill="#ffc805"/><circle cx="199.6" cy="85.4" r="0.72" fill="#ffb414"/><circle cx="191.2" cy="88.6" r="0.72" fill="#ffc805"/><circle cx="200.4" cy="83.2" r="0.72" fill="#ffc805"/><circle cx="205.0" cy="79.7" r="0.72" fill="#ffb414"/><circle cx="205.3" cy="80.8" r="0.72" fill="#ffb414"/><circle cx="203.9" cy="87.7" r="0.72" fill="#ffb414"/><circle cx="202.6" cy="82.6" r="0.72" fill="#ffb414"/><circle cx="192.5" cy="97.7" r="0.72" fill="#ffb414"/><circle cx="205.2" cy="78.4" r="0.72" fill="#ffc805"/><circle cx="192.9" cy="91.8" r="0.72" fill="#ffc805"/><circle cx="203.6" cy="83.7" r="0.72" fill="#ffb414"/><circle cx="203.7" cy="81.7" r="0.72" fill="#ffb414"/><circle cx="199.6" cy="82.9" r="0.72" fill="#ffc805"/><circle cx="198.0" cy="90.6" r="0.72" fill="#ffb414"/><circle cx="192.9" cy="95.7" r="0.72" fill="#ffb414"/><circle cx="198.0" cy="89.3" r="0.72" fill="#ffb414"/><circle cx="194.3" cy="95.7" r="0.72" fill="#ffb414"/><circle cx="191.7" cy="93.6" r="0.72" fill="#ffb414"/><circle cx="191.7" cy="83.8" r="0.72" fill="#d2c814"/><circle cx="202.5" cy="85.8" r="0.72" fill="#ffb414"/><circle cx="204.4" cy="77.9" r="0.72" fill="#ffc805"/><circle cx="214.6" cy="88.8" r="0.72" fill="#ff5a14"/><circle cx="205.5" cy="86.9" r="0.72" fill="#ff8c14"/><circle cx="214.2" cy="92.0" r="0.84" fill="#ff5a14"/><circle cx="216.0" cy="78.0" r="0.72" fill="#ff8c14"/><circle cx="211.7" cy="85.3" r="0.72" fill="#ff8c14"/><circle cx="221.0" cy="78.1" r="0.72" fill="#ff8c14"/><circle cx="210.9" cy="74.0" r="0.72" fill="#ffb414"/><circle cx="213.5" cy="76.6" r="0.72" fill="#ffb414"/><circle cx="205.0" cy="89.1" r="0.72" fill="#ff8c14"/><circle cx="214.6" cy="77.8" r="0.72" fill="#ff8c14"/><circle cx="219.0" cy="75.5" r="0.72" fill="#ff8c14"/><circle cx="218.2" cy="84.4" r="0.72" fill="#ff5a14"/><circle cx="208.1" cy="87.5" r="0.72" fill="#ff8c14"/><circle cx="223.8" cy="80.2" r="0.84" fill="#ff5a14"/><circle cx="218.0" cy="88.3" r="0.84" fill="#ff5a14"/><circle cx="211.6" cy="75.7" r="0.72" fill="#ffb414"/><circle cx="211.5" cy="93.4" r="0.84" fill="#ff5a14"/><circle cx="219.2" cy="85.8" r="0.84" fill="#ff5a14"/><circle cx="206.3" cy="84.8" r="0.72" fill="#ffb414"/><circle cx="216.2" cy="82.4" r="0.72" fill="#ff8c14"/><circle cx="217.9" cy="80.3" r="0.72" fill="#ff8c14"/><circle cx="213.6" cy="80.7" r="0.72" fill="#ff8c14"/><circle cx="221.2" cy="81.3" r="0.72" fill="#ff5a14"/><circle cx="212.6" cy="77.0" r="0.72" fill="#ffb414"/><circle cx="212.5" cy="92.0" r="0.84" fill="#ff5a14"/><circle cx="208.7" cy="83.1" r="0.72" fill="#ffb414"/><circle cx="222.2" cy="83.3" r="0.84" fill="#ff5a14"/><circle cx="209.3" cy="82.3" r="0.72" fill="#ffb414"/><circle cx="217.4" cy="80.1" r="0.72" fill="#ff8c14"/><circle cx="211.3" cy="86.6" r="0.72" fill="#ff8c14"/><circle cx="222.6" cy="82.9" r="0.84" fill="#ff5a14"/><circle cx="222.8" cy="76.3" r="0.72" fill="#ff8c14"/><circle cx="203.2" cy="82.6" r="0.72" fill="#ffb414"/><circle cx="223.8" cy="82.8" r="0.84" fill="#ff5a14"/><circle cx="174.9" cy="101.4" r="0.72" fill="#d2c814"/><circle cx="200.3" cy="97.8" r="0.72" fill="#ff8c14"/><circle cx="205.5" cy="95.1" r="0.72" fill="#ff5a14"/><circle cx="217.8" cy="93.9" r="0.84" fill="#ff3c1e"/><circle cx="225.5" cy="89.1" r="0.84" fill="#ff3c1e"/><circle cx="212.3" cy="90.9" r="0.72" fill="#ff5a14"/><circle cx="230.2" cy="80.4" r="0.84" fill="#ff3c1e"/><circle cx="232.3" cy="74.5" r="0.84" fill="#ff5a14"/><circle cx="233.5" cy="71.2" r="0.84" fill="#ff5a14"/><circle cx="242.5" cy="76.4" r="0.84" fill="#ff1a0a"/><circle cx="248.3" cy="73.7" r="0.84" fill="#ff1a0a"/><circle cx="255.9" cy="76.0" r="0.84" fill="#ff0000"/><circle cx="273.5" cy="73.0" r="0.84" fill="#ff0000"/><circle cx="228.5" cy="77.5" r="0.84" fill="#ff5a14"/></g>
<path d="M174.9 95.4 L178.9 93.9 L183.0 92.5 L187.0 91.1 L191.0 89.7 L195.1 88.4 L199.1 87.1 L203.2 85.7 L207.2 84.4 L211.3 83.1 L215.3 81.8 L219.4 80.5 L223.4 79.3 L227.4 78.0 L231.5 76.7 L235.5 75.4 L239.6 74.2 L243.6 72.9 L247.7 71.7 L251.7 70.4 L255.8 69.2 L259.8 67.9 L263.9 66.7 L267.9 65.4 L271.9 64.2" fill="none" stroke="#2ec6f2" stroke-width="0.95" stroke-dasharray="2.6 2.3" clip-path="url(#cpb)"/>
<rect x="164.5" y="5.9" width="114.3" height="114.3" fill="none" stroke="#878787" stroke-width="1.05"/>
<path d="M202.6 120.2v-1.7M164.5 82.1h1.7M240.7 120.2v-1.7M164.5 44.0h1.7" stroke="#555" stroke-width="0.6" fill="none"/>
<text x="164.5" y="127.2" font-size="5.7" stroke-width="0.03" fill="#1a1a1a" text-anchor="middle">0</text>
<text x="162.1" y="122.1" font-size="5.7" stroke-width="0.03" fill="#1a1a1a" text-anchor="end">0</text>
<text x="202.6" y="127.2" font-size="5.7" stroke-width="0.03" fill="#1a1a1a" text-anchor="middle">50</text>
<text x="162.1" y="84.0" font-size="5.7" stroke-width="0.03" fill="#1a1a1a" text-anchor="end">50</text>
<text x="240.7" y="127.2" font-size="5.7" stroke-width="0.03" fill="#1a1a1a" text-anchor="middle">100</text>
<text x="162.1" y="45.9" font-size="5.7" stroke-width="0.03" fill="#1a1a1a" text-anchor="end">100</text>
<text x="278.8" y="127.2" font-size="5.7" stroke-width="0.03" fill="#1a1a1a" text-anchor="middle">150</text>
<text x="162.1" y="7.8" font-size="5.7" stroke-width="0.03" fill="#1a1a1a" text-anchor="end">150</text>
<text x="166.7" y="18.0" font-size="11">(b)</text>
<text x="167.4" y="28.5" font-size="7.85" letter-spacing="0.3">2009-XT</text>
<text x="167.4" y="37.6" font-size="7.85">Model: SVR</text>
<text x="208.2" y="108.9" font-size="7.85">RMSE = 15.64 t/ha</text>
<text x="208.2" y="118.1" font-size="7.85">R<tspan font-size="5.7" dy="-2.9">2</tspan><tspan dy="2.9"> = 0.51</tspan></text>
</g>
<g>
<clipPath id="cpc"><rect x="297.9" y="5.9" width="114.3" height="114.3"/></clipPath>
<line x1="297.9" y1="120.2" x2="412.2" y2="5.9" stroke="#262626" stroke-width="0.95" stroke-dasharray="1.8 1.9"/>
<g stroke="none" clip-path="url(#cpc)"><circle cx="317.8" cy="91.0" r="0.72" fill="#d2c814"/><circle cx="322.8" cy="89.2" r="0.72" fill="#ffc805"/><circle cx="316.0" cy="89.4" r="0.72" fill="#d2c814"/><circle cx="320.1" cy="92.6" r="0.72" fill="#ffc805"/><circle cx="311.4" cy="89.9" r="0.72" fill="#96b41e"/><circle cx="321.4" cy="89.0" r="0.72" fill="#d2c814"/><circle cx="317.6" cy="92.8" r="0.72" fill="#d2c814"/><circle cx="321.6" cy="90.3" r="0.72" fill="#ffc805"/><circle cx="320.3" cy="91.4" r="0.72" fill="#ffc805"/><circle cx="321.4" cy="88.6" r="0.72" fill="#d2c814"/><circle cx="310.8" cy="95.8" r="0.72" fill="#d2c814"/><circle cx="319.4" cy="86.8" r="0.72" fill="#d2c814"/><circle cx="312.6" cy="95.1" r="0.72" fill="#d2c814"/><circle cx="313.5" cy="98.8" r="0.72" fill="#ffc805"/><circle cx="314.3" cy="94.3" r="0.72" fill="#d2c814"/><circle cx="317.8" cy="96.2" r="0.72" fill="#ffc805"/><circle cx="318.2" cy="90.6" r="0.72" fill="#d2c814"/><circle cx="322.2" cy="85.8" r="0.72" fill="#d2c814"/><circle cx="310.3" cy="92.3" r="0.72" fill="#96b41e"/><circle cx="312.6" cy="96.7" r="0.72" fill="#d2c814"/><circle cx="314.8" cy="94.1" r="0.72" fill="#d2c814"/><circle cx="320.7" cy="84.5" r="0.72" fill="#d2c814"/><circle cx="317.2" cy="90.1" r="0.72" fill="#d2c814"/><circle cx="316.7" cy="91.1" r="0.72" fill="#d2c814"/><circle cx="329.4" cy="92.2" r="0.72" fill="#ffb414"/><circle cx="345.3" cy="81.9" r="0.72" fill="#ff8c14"/><circle cx="338.4" cy="81.2" r="0.72" fill="#ffb414"/><circle cx="335.5" cy="78.6" r="0.72" fill="#ffc805"/><circle cx="323.3" cy="83.3" r="0.72" fill="#d2c814"/><circle cx="343.5" cy="79.3" r="0.72" fill="#ffb414"/><circle cx="322.7" cy="88.5" r="0.72" fill="#ffc805"/><circle cx="348.7" cy="80.2" r="0.72" fill="#ff8c14"/><circle cx="346.2" cy="76.1" r="0.72" fill="#ffb414"/><circle cx="329.5" cy="85.9" r="0.72" fill="#ffc805"/><circle cx="324.5" cy="84.4" r="0.72" fill="#d2c814"/><circle cx="346.4" cy="70.4" r="0.72" fill="#ffc805"/><circle cx="334.7" cy="82.8" r="0.72" fill="#ffc805"/><circle cx="324.4" cy="93.3" r="0.72" fill="#ffc805"/><circle cx="335.2" cy="86.0" r="0.72" fill="#ffb414"/><circle cx="327.9" cy="91.6" r="0.72" fill="#ffb414"/><circle cx="332.6" cy="88.6" r="0.72" fill="#ffb414"/><circle cx="339.3" cy="75.2" r="0.72" fill="#ffc805"/><circle cx="347.3" cy="76.4" r="0.72" fill="#ffb414"/><circle cx="344.0" cy="85.1" r="0.72" fill="#ff8c14"/><circle cx="325.4" cy="83.8" r="0.72" fill="#d2c814"/><circle cx="334.6" cy="77.4" r="0.72" fill="#ffc805"/><circle cx="335.0" cy="84.0" r="0.72" fill="#ffb414"/><circle cx="349.4" cy="79.3" r="0.72" fill="#ff8c14"/><circle cx="323.3" cy="88.9" r="0.72" fill="#ffc805"/><circle cx="335.5" cy="81.1" r="0.72" fill="#ffc805"/><circle cx="347.2" cy="74.7" r="0.72" fill="#ffb414"/><circle cx="332.3" cy="78.7" r="0.72" fill="#ffc805"/><circle cx="328.3" cy="80.2" r="0.72" fill="#d2c814"/><circle cx="336.9" cy="76.8" r="0.72" fill="#ffc805"/><circle cx="330.0" cy="78.9" r="0.72" fill="#d2c814"/><circle cx="347.6" cy="74.5" r="0.72" fill="#ffb414"/><circle cx="323.2" cy="93.9" r="0.72" fill="#ffc805"/><circle cx="326.7" cy="86.5" r="0.72" fill="#ffc805"/><circle cx="323.2" cy="86.2" r="0.72" fill="#d2c814"/><circle cx="341.4" cy="81.4" r="0.72" fill="#ffb414"/><circle cx="329.2" cy="81.1" r="0.72" fill="#d2c814"/><circle cx="346.8" cy="79.1" r="0.72" fill="#ff8c14"/><circle cx="346.6" cy="81.5" r="0.72" fill="#ff8c14"/><circle cx="347.9" cy="71.1" r="0.72" fill="#ffb414"/><circle cx="328.2" cy="82.6" r="0.72" fill="#ffc805"/><circle cx="320.8" cy="87.6" r="0.72" fill="#d2c814"/><circle cx="332.0" cy="79.9" r="0.72" fill="#ffc805"/><circle cx="348.6" cy="72.3" r="0.72" fill="#ffb414"/><circle cx="342.9" cy="77.8" r="0.72" fill="#ffb414"/><circle cx="322.5" cy="98.1" r="0.72" fill="#ffb414"/><circle cx="341.1" cy="82.8" r="0.72" fill="#ffb414"/><circle cx="347.3" cy="79.3" r="0.72" fill="#ff8c14"/><circle cx="348.8" cy="80.9" r="0.72" fill="#ff8c14"/><circle cx="341.5" cy="79.0" r="0.72" fill="#ffb414"/><circle cx="345.7" cy="73.0" r="0.72" fill="#ffb414"/><circle cx="345.1" cy="80.3" r="0.72" fill="#ffb414"/><circle cx="331.1" cy="88.9" r="0.72" fill="#ffb414"/><circle cx="323.6" cy="78.8" r="0.72" fill="#96b41e"/><circle cx="341.8" cy="81.5" r="0.72" fill="#ffb414"/><circle cx="324.7" cy="92.0" r="0.72" fill="#ffc805"/><circle cx="331.9" cy="82.8" r="0.72" fill="#ffc805"/><circle cx="349.6" cy="74.6" r="0.72" fill="#ffb414"/><circle cx="337.0" cy="84.6" r="0.72" fill="#ffb414"/><circle cx="335.9" cy="78.8" r="0.72" fill="#ffc805"/><circle cx="348.2" cy="79.0" r="0.72" fill="#ff8c14"/><circle cx="329.0" cy="88.9" r="0.72" fill="#ffc805"/><circle cx="347.0" cy="76.6" r="0.72" fill="#ffb414"/><circle cx="358.4" cy="75.3" r="0.72" fill="#ff5a14"/><circle cx="354.3" cy="73.5" r="0.72" fill="#ff8c14"/><circle cx="356.1" cy="75.9" r="0.72" fill="#ff8c14"/><circle cx="353.9" cy="74.4" r="0.72" fill="#ff8c14"/><circle cx="357.1" cy="72.9" r="0.72" fill="#ff8c14"/><circle cx="349.6" cy="77.3" r="0.72" fill="#ff8c14"/><circle cx="354.9" cy="81.1" r="0.72" fill="#ff5a14"/><circle cx="348.8" cy="80.9" r="0.72" fill="#ff8c14"/><circle cx="352.1" cy="81.3" r="0.72" fill="#ff5a14"/><circle cx="354.5" cy="73.0" r="0.72" fill="#ff8c14"/><circle cx="347.9" cy="80.1" r="0.72" fill="#ff8c14"/><circle cx="346.0" cy="74.8" r="0.72" fill="#ffb414"/><circle cx="356.0" cy="75.5" r="0.72" fill="#ff8c14"/><circle cx="356.2" cy="72.5" r="0.72" fill="#ff8c14"/><circle cx="354.3" cy="74.5" r="0.72" fill="#ff8c14"/><circle cx="313.4" cy="98.2" r="0.72" fill="#ffc805"/><circle cx="355.8" cy="80.6" r="0.72" fill="#ff5a14"/><circle cx="358.9" cy="82.1" r="0.84" fill="#ff5a14"/><circle cx="360.4" cy="79.1" r="0.84" fill="#ff5a14"/><circle cx="362.7" cy="79.8" r="0.84" fill="#ff3c1e"/><circle cx="365.0" cy="78.3" r="0.84" fill="#ff3c1e"/><circle cx="368.0" cy="79.1" r="0.84" fill="#ff3c1e"/><circle cx="370.3" cy="77.5" r="0.84" fill="#ff3c1e"/><circle cx="381.7" cy="82.1" r="0.84" fill="#ff0000"/><circle cx="383.2" cy="79.8" r="0.84" fill="#ff0000"/><circle cx="385.5" cy="77.5" r="0.84" fill="#ff0000"/><circle cx="384.0" cy="78.3" r="0.84" fill="#ff0000"/></g>
<path d="M310.1 90.5 L313.2 89.5 L316.4 88.6 L319.5 87.7 L322.7 86.8 L325.8 85.9 L329.0 85.1 L332.1 84.2 L335.2 83.4 L338.4 82.5 L341.5 81.7 L344.7 80.9 L347.8 80.0 L351.0 79.2 L354.1 78.4 L357.2 77.6 L360.4 76.7 L363.5 75.9 L366.7 75.1 L369.8 74.3 L373.0 73.5 L376.1 72.7 L379.2 71.9 L382.4 71.1 L385.5 70.3" fill="none" stroke="#2ec6f2" stroke-width="0.95" stroke-dasharray="2.6 2.3" clip-path="url(#cpc)"/>
<rect x="297.9" y="5.9" width="114.3" height="114.3" fill="none" stroke="#878787" stroke-width="1.05"/>
<path d="M336.0 120.2v-1.7M297.9 82.1h1.7M374.1 120.2v-1.7M297.9 44.0h1.7" stroke="#555" stroke-width="0.6" fill="none"/>
<text x="297.9" y="127.2" font-size="5.7" stroke-width="0.03" fill="#1a1a1a" text-anchor="middle">0</text>
<text x="295.5" y="122.1" font-size="5.7" stroke-width="0.03" fill="#1a1a1a" text-anchor="end">0</text>
<text x="336.0" y="127.2" font-size="5.7" stroke-width="0.03" fill="#1a1a1a" text-anchor="middle">50</text>
<text x="295.5" y="84.0" font-size="5.7" stroke-width="0.03" fill="#1a1a1a" text-anchor="end">50</text>
<text x="374.1" y="127.2" font-size="5.7" stroke-width="0.03" fill="#1a1a1a" text-anchor="middle">100</text>
<text x="295.5" y="45.9" font-size="5.7" stroke-width="0.03" fill="#1a1a1a" text-anchor="end">100</text>
<text x="412.2" y="127.2" font-size="5.7" stroke-width="0.03" fill="#1a1a1a" text-anchor="middle">150</text>
<text x="295.5" y="7.8" font-size="5.7" stroke-width="0.03" fill="#1a1a1a" text-anchor="end">150</text>
<text x="300.1" y="18.0" font-size="11">(c)</text>
<text x="300.8" y="28.5" font-size="7.85" letter-spacing="0.3">2019-XT</text>
<text x="300.8" y="37.6" font-size="7.85">Model: SVR</text>
<text x="341.5" y="109.3" font-size="7.85">RMSE = 15.58 t/ha</text>
<text x="341.5" y="118.4" font-size="7.85">R<tspan font-size="5.7" dy="-2.9">2</tspan><tspan dy="2.9"> = 0.50</tspan></text>
</g>
<g>
<clipPath id="cpd"><rect x="427.9" y="5.9" width="114.3" height="114.3"/></clipPath>
<line x1="427.9" y1="120.2" x2="542.2" y2="5.9" stroke="#262626" stroke-width="0.95" stroke-dasharray="1.8 1.9"/>
<g stroke="none" clip-path="url(#cpd)"><circle cx="448.3" cy="90.6" r="0.72" fill="#d2c814"/><circle cx="441.3" cy="90.5" r="0.72" fill="#96b41e"/><circle cx="447.3" cy="95.0" r="0.72" fill="#ffc805"/><circle cx="443.0" cy="89.1" r="0.72" fill="#96b41e"/><circle cx="446.7" cy="92.5" r="0.72" fill="#d2c814"/><circle cx="444.0" cy="90.1" r="0.72" fill="#d2c814"/><circle cx="443.6" cy="91.4" r="0.72" fill="#d2c814"/><circle cx="444.9" cy="98.4" r="0.72" fill="#ffc805"/><circle cx="445.3" cy="93.4" r="0.72" fill="#d2c814"/><circle cx="446.7" cy="90.4" r="0.72" fill="#d2c814"/><circle cx="446.2" cy="86.9" r="0.72" fill="#d2c814"/><circle cx="446.5" cy="90.2" r="0.72" fill="#d2c814"/><circle cx="474.8" cy="72.1" r="0.72" fill="#ffc805"/><circle cx="457.5" cy="83.9" r="0.72" fill="#ffc805"/><circle cx="449.6" cy="92.8" r="0.72" fill="#ffc805"/><circle cx="466.0" cy="77.8" r="0.72" fill="#ffc805"/><circle cx="450.3" cy="90.8" r="0.72" fill="#ffc805"/><circle cx="474.7" cy="85.4" r="0.72" fill="#ff8c14"/><circle cx="450.1" cy="77.4" r="0.72" fill="#96b41e"/><circle cx="457.8" cy="81.6" r="0.72" fill="#d2c814"/><circle cx="462.0" cy="75.3" r="0.72" fill="#d2c814"/><circle cx="450.0" cy="91.7" r="0.72" fill="#ffc805"/><circle cx="456.4" cy="79.4" r="0.72" fill="#d2c814"/><circle cx="455.0" cy="79.6" r="0.72" fill="#d2c814"/><circle cx="469.0" cy="72.8" r="0.72" fill="#ffc805"/><circle cx="477.8" cy="74.4" r="0.72" fill="#ffb414"/><circle cx="457.8" cy="88.9" r="0.72" fill="#ffc805"/><circle cx="471.5" cy="78.1" r="0.72" fill="#ffb414"/><circle cx="450.7" cy="96.2" r="0.72" fill="#ffc805"/><circle cx="464.7" cy="87.3" r="0.72" fill="#ffb414"/><circle cx="460.0" cy="82.8" r="0.72" fill="#ffc805"/><circle cx="455.4" cy="89.3" r="0.72" fill="#ffc805"/><circle cx="472.5" cy="77.6" r="0.72" fill="#ffb414"/><circle cx="470.1" cy="78.6" r="0.72" fill="#ffb414"/><circle cx="450.5" cy="80.6" r="0.72" fill="#96b41e"/><circle cx="455.5" cy="80.5" r="0.72" fill="#d2c814"/><circle cx="472.4" cy="77.2" r="0.72" fill="#ffb414"/><circle cx="477.9" cy="69.6" r="0.72" fill="#ffc805"/><circle cx="465.8" cy="83.3" r="0.72" fill="#ffb414"/><circle cx="474.1" cy="77.4" r="0.72" fill="#ffb414"/><circle cx="477.7" cy="70.9" r="0.72" fill="#ffb414"/><circle cx="469.9" cy="83.0" r="0.72" fill="#ffb414"/><circle cx="466.8" cy="80.8" r="0.72" fill="#ffc805"/><circle cx="453.3" cy="91.6" r="0.72" fill="#ffc805"/><circle cx="458.0" cy="83.7" r="0.72" fill="#ffc805"/><circle cx="466.1" cy="73.9" r="0.72" fill="#d2c814"/><circle cx="475.8" cy="78.1" r="0.72" fill="#ffb414"/><circle cx="455.8" cy="84.4" r="0.72" fill="#d2c814"/><circle cx="458.8" cy="87.2" r="0.72" fill="#ffc805"/><circle cx="446.9" cy="94.1" r="0.72" fill="#ffc805"/><circle cx="468.5" cy="83.7" r="0.72" fill="#ffb414"/><circle cx="460.4" cy="77.5" r="0.72" fill="#d2c814"/><circle cx="471.7" cy="68.3" r="0.72" fill="#d2c814"/><circle cx="453.7" cy="84.5" r="0.72" fill="#d2c814"/><circle cx="467.3" cy="82.3" r="0.72" fill="#ffb414"/><circle cx="467.7" cy="76.6" r="0.72" fill="#ffc805"/><circle cx="461.0" cy="83.9" r="0.72" fill="#ffc805"/><circle cx="452.2" cy="84.0" r="0.72" fill="#d2c814"/><circle cx="459.1" cy="82.5" r="0.72" fill="#ffc805"/><circle cx="470.0" cy="77.1" r="0.72" fill="#ffc805"/><circle cx="452.2" cy="84.8" r="0.72" fill="#d2c814"/><circle cx="449.1" cy="90.9" r="0.72" fill="#d2c814"/><circle cx="461.0" cy="84.2" r="0.72" fill="#ffc805"/><circle cx="453.7" cy="92.9" r="0.72" fill="#ffc805"/><circle cx="471.8" cy="79.0" r="0.72" fill="#ffb414"/><circle cx="472.3" cy="82.4" r="0.72" fill="#ffb414"/><circle cx="476.4" cy="75.5" r="0.72" fill="#ffb414"/><circle cx="473.1" cy="80.3" r="0.72" fill="#ffb414"/><circle cx="466.9" cy="79.4" r="0.72" fill="#ffc805"/><circle cx="452.2" cy="85.4" r="0.72" fill="#d2c814"/><circle cx="472.5" cy="82.3" r="0.72" fill="#ffb414"/><circle cx="469.5" cy="81.5" r="0.72" fill="#ffb414"/><circle cx="470.1" cy="81.7" r="0.72" fill="#ffb414"/><circle cx="468.5" cy="76.1" r="0.72" fill="#ffc805"/><circle cx="472.8" cy="70.3" r="0.72" fill="#ffc805"/><circle cx="455.7" cy="82.1" r="0.72" fill="#d2c814"/><circle cx="480.5" cy="70.0" r="0.72" fill="#ffb414"/><circle cx="485.4" cy="76.7" r="0.72" fill="#ff8c14"/><circle cx="482.4" cy="75.0" r="0.72" fill="#ff8c14"/><circle cx="480.9" cy="81.2" r="0.72" fill="#ff8c14"/><circle cx="481.9" cy="79.1" r="0.72" fill="#ff8c14"/><circle cx="482.6" cy="72.1" r="0.72" fill="#ffb414"/><circle cx="490.7" cy="75.7" r="0.72" fill="#ff5a14"/><circle cx="488.2" cy="72.5" r="0.72" fill="#ff8c14"/><circle cx="489.5" cy="73.7" r="0.72" fill="#ff8c14"/><circle cx="487.7" cy="76.9" r="0.72" fill="#ff5a14"/><circle cx="483.3" cy="76.3" r="0.72" fill="#ff8c14"/><circle cx="484.2" cy="76.5" r="0.72" fill="#ff8c14"/><circle cx="484.8" cy="76.2" r="0.72" fill="#ff8c14"/><circle cx="483.1" cy="73.4" r="0.72" fill="#ff8c14"/><circle cx="484.5" cy="73.3" r="0.72" fill="#ff8c14"/><circle cx="488.5" cy="75.4" r="0.72" fill="#ff5a14"/><circle cx="480.6" cy="78.6" r="0.72" fill="#ff8c14"/><circle cx="482.9" cy="74.8" r="0.72" fill="#ff8c14"/><circle cx="482.8" cy="80.6" r="0.72" fill="#ff8c14"/><circle cx="485.0" cy="79.8" r="0.72" fill="#ff5a14"/><circle cx="488.1" cy="80.6" r="0.84" fill="#ff5a14"/><circle cx="490.4" cy="79.8" r="0.84" fill="#ff5a14"/><circle cx="492.7" cy="79.1" r="0.84" fill="#ff3c1e"/><circle cx="495.3" cy="77.6" r="0.84" fill="#ff3c1e"/><circle cx="499.8" cy="73.1" r="0.84" fill="#ff3c1e"/><circle cx="502.6" cy="72.5" r="0.84" fill="#ff3c1e"/><circle cx="507.1" cy="73.1" r="0.84" fill="#ff1a0a"/><circle cx="523.1" cy="72.5" r="0.84" fill="#ff0000"/><circle cx="466.8" cy="70.4" r="0.72" fill="#d2c814"/><circle cx="461.7" cy="73.1" r="0.72" fill="#d2c814"/><circle cx="443.1" cy="99.6" r="0.72" fill="#ffc805"/><circle cx="471.3" cy="91.2" r="0.72" fill="#ff8c14"/><circle cx="472.9" cy="89.0" r="0.72" fill="#ff8c14"/></g>
<path d="M441.2 90.5 L444.6 89.3 L447.9 88.1 L451.2 87.0 L454.6 85.9 L457.9 84.8 L461.2 83.7 L464.6 82.7 L467.9 81.6 L471.2 80.6 L474.6 79.5 L477.9 78.5 L481.2 77.5 L484.6 76.4 L487.9 75.4 L491.2 74.4 L494.6 73.4 L497.9 72.4 L501.2 71.3 L504.6 70.3 L507.9 69.3 L511.2 68.3 L514.6 67.3 L517.9 66.3 L521.2 65.3" fill="none" stroke="#2ec6f2" stroke-width="0.95" stroke-dasharray="2.6 2.3" clip-path="url(#cpd)"/>
<rect x="427.9" y="5.9" width="114.3" height="114.3" fill="none" stroke="#878787" stroke-width="1.05"/>
<path d="M466.0 120.2v-1.7M427.9 82.1h1.7M504.1 120.2v-1.7M427.9 44.0h1.7" stroke="#555" stroke-width="0.6" fill="none"/>
<text x="427.9" y="127.2" font-size="5.7" stroke-width="0.03" fill="#1a1a1a" text-anchor="middle">0</text>
<text x="425.5" y="122.1" font-size="5.7" stroke-width="0.03" fill="#1a1a1a" text-anchor="end">0</text>
<text x="466.0" y="127.2" font-size="5.7" stroke-width="0.03" fill="#1a1a1a" text-anchor="middle">50</text>
<text x="425.5" y="84.0" font-size="5.7" stroke-width="0.03" fill="#1a1a1a" text-anchor="end">50</text>
<text x="504.1" y="127.2" font-size="5.7" stroke-width="0.03" fill="#1a1a1a" text-anchor="middle">100</text>
<text x="425.5" y="45.9" font-size="5.7" stroke-width="0.03" fill="#1a1a1a" text-anchor="end">100</text>
<text x="542.2" y="127.2" font-size="5.7" stroke-width="0.03" fill="#1a1a1a" text-anchor="middle">150</text>
<text x="425.5" y="7.8" font-size="5.7" stroke-width="0.03" fill="#1a1a1a" text-anchor="end">150</text>
<text x="430.1" y="18.0" font-size="11">(d)</text>
<text x="430.8" y="28.5" font-size="7.85" letter-spacing="0.3">2014-NX</text>
<text x="430.8" y="37.6" font-size="7.85">Model: RF</text>
<text x="471.9" y="107.9" font-size="7.85">RMSE = 15.89 t/ha</text>
<text x="471.9" y="117.2" font-size="7.85">R<tspan font-size="5.7" dy="-2.9">2</tspan><tspan dy="2.9"> = 0.51</tspan></text>
</g>
<g>
<clipPath id="cpe"><rect x="30.1" y="134.9" width="114.3" height="113.8"/></clipPath>
<line x1="30.1" y1="248.7" x2="144.4" y2="134.9" stroke="#262626" stroke-width="0.95" stroke-dasharray="1.8 1.9"/>
<g stroke="none" clip-path="url(#cpe)"><circle cx="59.9" cy="215.2" r="0.72" fill="#ffc805"/><circle cx="68.5" cy="212.9" r="0.72" fill="#ffb414"/><circle cx="60.1" cy="207.1" r="0.72" fill="#d2c814"/><circle cx="67.1" cy="211.3" r="0.72" fill="#ffc805"/><circle cx="60.4" cy="218.9" r="0.72" fill="#ffb414"/><circle cx="59.3" cy="216.9" r="0.72" fill="#ffc805"/><circle cx="54.1" cy="214.7" r="0.72" fill="#d2c814"/><circle cx="53.7" cy="215.2" r="0.72" fill="#d2c814"/><circle cx="53.0" cy="218.6" r="0.72" fill="#ffc805"/><circle cx="57.6" cy="218.5" r="0.72" fill="#ffc805"/><circle cx="57.4" cy="215.9" r="0.72" fill="#ffc805"/><circle cx="66.3" cy="218.2" r="0.72" fill="#ffb414"/><circle cx="57.6" cy="220.9" r="0.72" fill="#ffc805"/><circle cx="59.1" cy="212.0" r="0.72" fill="#d2c814"/><circle cx="51.3" cy="220.7" r="0.72" fill="#ffc805"/><circle cx="73.2" cy="207.0" r="0.72" fill="#ffb414"/><circle cx="64.5" cy="207.8" r="0.72" fill="#ffc805"/><circle cx="74.3" cy="205.4" r="0.72" fill="#ffb414"/><circle cx="66.7" cy="211.4" r="0.72" fill="#ffc805"/><circle cx="72.0" cy="200.7" r="0.72" fill="#ffc805"/><circle cx="58.7" cy="212.7" r="0.72" fill="#ffc805"/><circle cx="66.1" cy="213.2" r="0.72" fill="#ffb414"/><circle cx="70.3" cy="206.9" r="0.72" fill="#ffc805"/><circle cx="51.3" cy="217.3" r="0.72" fill="#d2c814"/><circle cx="69.6" cy="213.5" r="0.72" fill="#ffb414"/><circle cx="73.6" cy="207.9" r="0.72" fill="#ffb414"/><circle cx="63.8" cy="213.5" r="0.72" fill="#ffc805"/><circle cx="66.5" cy="219.3" r="0.72" fill="#ffb414"/><circle cx="70.4" cy="210.4" r="0.72" fill="#ffb414"/><circle cx="55.5" cy="218.0" r="0.72" fill="#ffc805"/><circle cx="63.8" cy="214.6" r="0.72" fill="#ffc805"/><circle cx="53.9" cy="224.1" r="0.72" fill="#ffc805"/><circle cx="55.4" cy="218.3" r="0.72" fill="#ffc805"/><circle cx="55.8" cy="216.9" r="0.72" fill="#ffc805"/><circle cx="59.5" cy="214.5" r="0.72" fill="#ffc805"/><circle cx="61.8" cy="218.3" r="0.72" fill="#ffb414"/><circle cx="64.2" cy="210.3" r="0.72" fill="#ffc805"/><circle cx="49.6" cy="224.4" r="0.72" fill="#ffc805"/><circle cx="68.0" cy="211.8" r="0.72" fill="#ffb414"/><circle cx="69.6" cy="205.0" r="0.72" fill="#ffc805"/><circle cx="66.3" cy="214.4" r="0.72" fill="#ffb414"/><circle cx="57.8" cy="217.7" r="0.72" fill="#ffc805"/><circle cx="59.9" cy="210.6" r="0.72" fill="#d2c814"/><circle cx="64.9" cy="213.9" r="0.72" fill="#ffc805"/><circle cx="63.8" cy="214.0" r="0.72" fill="#ffc805"/><circle cx="47.5" cy="219.8" r="0.72" fill="#d2c814"/><circle cx="66.4" cy="207.6" r="0.72" fill="#ffc805"/><circle cx="60.6" cy="223.0" r="0.72" fill="#ffb414"/><circle cx="46.2" cy="224.5" r="0.72" fill="#d2c814"/><circle cx="68.4" cy="214.6" r="0.72" fill="#ffb414"/><circle cx="63.5" cy="217.3" r="0.72" fill="#ffb414"/><circle cx="59.8" cy="218.2" r="0.72" fill="#ffc805"/><circle cx="71.4" cy="212.6" r="0.72" fill="#ffb414"/><circle cx="51.4" cy="217.7" r="0.72" fill="#d2c814"/><circle cx="61.9" cy="217.3" r="0.72" fill="#ffb414"/><circle cx="72.1" cy="208.5" r="0.72" fill="#ffb414"/><circle cx="59.1" cy="213.6" r="0.72" fill="#ffc805"/><circle cx="57.4" cy="218.8" r="0.72" fill="#ffc805"/><circle cx="61.5" cy="213.5" r="0.72" fill="#ffc805"/><circle cx="57.1" cy="209.7" r="0.72" fill="#d2c814"/><circle cx="72.7" cy="207.4" r="0.72" fill="#ffb414"/><circle cx="53.5" cy="220.3" r="0.72" fill="#ffc805"/><circle cx="67.5" cy="211.4" r="0.72" fill="#ffc805"/><circle cx="50.8" cy="222.7" r="0.72" fill="#ffc805"/><circle cx="65.9" cy="210.9" r="0.72" fill="#ffc805"/><circle cx="59.8" cy="211.5" r="0.72" fill="#d2c814"/><circle cx="61.0" cy="217.4" r="0.72" fill="#ffc805"/><circle cx="60.6" cy="215.2" r="0.72" fill="#ffc805"/><circle cx="52.3" cy="214.1" r="0.72" fill="#d2c814"/><circle cx="57.1" cy="218.0" r="0.72" fill="#ffc805"/><circle cx="72.7" cy="207.9" r="0.72" fill="#ffb414"/><circle cx="51.9" cy="222.6" r="0.72" fill="#ffc805"/><circle cx="52.3" cy="221.6" r="0.72" fill="#ffc805"/><circle cx="71.9" cy="211.0" r="0.72" fill="#ffb414"/><circle cx="61.5" cy="205.7" r="0.72" fill="#d2c814"/><circle cx="72.7" cy="210.2" r="0.72" fill="#ffb414"/><circle cx="63.2" cy="215.2" r="0.72" fill="#ffc805"/><circle cx="53.7" cy="219.8" r="0.72" fill="#ffc805"/><circle cx="50.6" cy="218.0" r="0.72" fill="#d2c814"/><circle cx="49.8" cy="218.0" r="0.72" fill="#d2c814"/><circle cx="43.3" cy="218.9" r="0.72" fill="#96b41e"/><circle cx="45.4" cy="221.6" r="0.72" fill="#d2c814"/><circle cx="48.2" cy="216.7" r="0.72" fill="#d2c814"/><circle cx="50.1" cy="218.5" r="0.72" fill="#d2c814"/><circle cx="46.9" cy="218.9" r="0.72" fill="#d2c814"/><circle cx="47.6" cy="218.5" r="0.72" fill="#d2c814"/><circle cx="51.4" cy="218.1" r="0.72" fill="#d2c814"/><circle cx="82.0" cy="203.2" r="0.72" fill="#ffb414"/><circle cx="83.5" cy="204.7" r="0.72" fill="#ff8c14"/><circle cx="85.0" cy="205.5" r="0.72" fill="#ff8c14"/><circle cx="86.5" cy="207.0" r="0.72" fill="#ff8c14"/><circle cx="88.1" cy="209.2" r="0.72" fill="#ff5a14"/><circle cx="91.1" cy="212.3" r="0.84" fill="#ff3c1e"/><circle cx="94.2" cy="210.8" r="0.84" fill="#ff3c1e"/><circle cx="95.7" cy="207.0" r="0.84" fill="#ff3c1e"/><circle cx="97.2" cy="205.5" r="0.84" fill="#ff3c1e"/><circle cx="80.4" cy="201.7" r="0.72" fill="#ffb414"/><circle cx="66.7" cy="197.1" r="0.72" fill="#96b41e"/><circle cx="72.8" cy="197.9" r="0.72" fill="#d2c814"/></g>
<path d="M43.1 218.4 L45.2 217.7 L47.3 217.1 L49.4 216.5 L51.5 215.9 L53.6 215.3 L55.7 214.8 L57.8 214.2 L59.9 213.6 L62.0 213.1 L64.1 212.5 L66.2 212.0 L68.2 211.4 L70.3 210.9 L72.4 210.3 L74.5 209.8 L76.6 209.2 L78.7 208.7 L80.8 208.1 L82.9 207.6 L85.0 207.1 L87.1 206.5 L89.2 206.0 L91.3 205.5 L93.4 204.9" fill="none" stroke="#2ec6f2" stroke-width="0.95" stroke-dasharray="2.6 2.3" clip-path="url(#cpe)"/>
<rect x="30.1" y="134.9" width="114.3" height="113.8" fill="none" stroke="#878787" stroke-width="1.05"/>
<path d="M68.2 248.7v-1.7M30.1 210.8h1.7M106.3 248.7v-1.7M30.1 172.8h1.7" stroke="#555" stroke-width="0.6" fill="none"/>
<text x="30.1" y="255.7" font-size="5.7" stroke-width="0.03" fill="#1a1a1a" text-anchor="middle">0</text>
<text x="27.8" y="250.6" font-size="5.7" stroke-width="0.03" fill="#1a1a1a" text-anchor="end">0</text>
<text x="68.2" y="255.7" font-size="5.7" stroke-width="0.03" fill="#1a1a1a" text-anchor="middle">50</text>
<text x="27.8" y="212.7" font-size="5.7" stroke-width="0.03" fill="#1a1a1a" text-anchor="end">50</text>
<text x="106.3" y="255.7" font-size="5.7" stroke-width="0.03" fill="#1a1a1a" text-anchor="middle">100</text>
<text x="27.8" y="174.7" font-size="5.7" stroke-width="0.03" fill="#1a1a1a" text-anchor="end">100</text>
<text x="144.4" y="255.7" font-size="5.7" stroke-width="0.03" fill="#1a1a1a" text-anchor="middle">150</text>
<text x="27.8" y="136.8" font-size="5.7" stroke-width="0.03" fill="#1a1a1a" text-anchor="end">150</text>
<text x="32.4" y="147.0" font-size="11">(e)</text>
<text x="33.0" y="157.5" font-size="7.85" letter-spacing="0.3">2014-WC</text>
<text x="33.0" y="166.6" font-size="7.85">Model: RF</text>
<text x="73.8" y="236.9" font-size="7.85">RMSE = 16.20 t/ha</text>
<text x="73.8" y="246.1" font-size="7.85">R<tspan font-size="5.7" dy="-2.9">2</tspan><tspan dy="2.9"> = 0.48</tspan></text>
</g>
<g>
<clipPath id="cpf"><rect x="164.5" y="134.9" width="114.3" height="113.8"/></clipPath>
<line x1="164.5" y1="248.7" x2="278.8" y2="134.9" stroke="#262626" stroke-width="0.95" stroke-dasharray="1.8 1.9"/>
<g stroke="none" clip-path="url(#cpf)"><circle cx="197.6" cy="214.8" r="0.72" fill="#ffc805"/><circle cx="186.7" cy="224.0" r="0.72" fill="#ffc805"/><circle cx="188.9" cy="221.4" r="0.72" fill="#ffc805"/><circle cx="196.9" cy="212.1" r="0.72" fill="#ffc805"/><circle cx="195.9" cy="208.8" r="0.72" fill="#d2c814"/><circle cx="192.5" cy="220.2" r="0.72" fill="#ffc805"/><circle cx="191.3" cy="218.3" r="0.72" fill="#ffc805"/><circle cx="189.6" cy="221.0" r="0.72" fill="#ffc805"/><circle cx="194.6" cy="219.0" r="0.72" fill="#ffb414"/><circle cx="202.6" cy="215.2" r="0.72" fill="#ffb414"/><circle cx="188.1" cy="220.3" r="0.72" fill="#ffc805"/><circle cx="204.8" cy="215.9" r="0.72" fill="#ffb414"/><circle cx="200.4" cy="211.2" r="0.72" fill="#ffc805"/><circle cx="192.0" cy="217.6" r="0.72" fill="#ffc805"/><circle cx="200.1" cy="214.8" r="0.72" fill="#ffb414"/><circle cx="185.5" cy="224.0" r="0.72" fill="#ffc805"/><circle cx="183.8" cy="225.8" r="0.72" fill="#ffc805"/><circle cx="186.6" cy="213.7" r="0.72" fill="#d2c814"/><circle cx="192.3" cy="223.2" r="0.72" fill="#ffb414"/><circle cx="192.9" cy="210.5" r="0.72" fill="#d2c814"/><circle cx="191.6" cy="215.5" r="0.72" fill="#ffc805"/><circle cx="195.6" cy="216.7" r="0.72" fill="#ffc805"/><circle cx="190.0" cy="223.8" r="0.72" fill="#ffb414"/><circle cx="198.2" cy="208.9" r="0.72" fill="#ffc805"/><circle cx="185.8" cy="214.9" r="0.72" fill="#d2c814"/><circle cx="190.7" cy="222.7" r="0.72" fill="#ffb414"/><circle cx="192.3" cy="218.8" r="0.72" fill="#ffc805"/><circle cx="187.5" cy="216.5" r="0.72" fill="#d2c814"/><circle cx="186.1" cy="220.6" r="0.72" fill="#ffc805"/><circle cx="188.5" cy="211.8" r="0.72" fill="#d2c814"/><circle cx="194.9" cy="218.1" r="0.72" fill="#ffc805"/><circle cx="198.8" cy="210.6" r="0.72" fill="#ffc805"/><circle cx="198.6" cy="218.3" r="0.72" fill="#ffb414"/><circle cx="188.5" cy="211.3" r="0.72" fill="#d2c814"/><circle cx="189.9" cy="222.4" r="0.72" fill="#ffc805"/><circle cx="189.0" cy="224.0" r="0.72" fill="#ffc805"/><circle cx="197.9" cy="214.1" r="0.72" fill="#ffc805"/><circle cx="197.5" cy="214.4" r="0.72" fill="#ffc805"/><circle cx="203.0" cy="201.7" r="0.72" fill="#d2c814"/><circle cx="191.8" cy="219.3" r="0.72" fill="#ffc805"/><circle cx="189.9" cy="219.3" r="0.72" fill="#ffc805"/><circle cx="197.2" cy="211.5" r="0.72" fill="#ffc805"/><circle cx="201.7" cy="204.1" r="0.72" fill="#d2c814"/><circle cx="197.2" cy="214.3" r="0.72" fill="#ffc805"/><circle cx="201.8" cy="206.3" r="0.72" fill="#ffc805"/><circle cx="195.9" cy="212.8" r="0.72" fill="#ffc805"/><circle cx="202.9" cy="211.2" r="0.72" fill="#ffb414"/><circle cx="203.0" cy="209.5" r="0.72" fill="#ffc805"/><circle cx="194.3" cy="216.0" r="0.72" fill="#ffc805"/><circle cx="204.3" cy="212.8" r="0.72" fill="#ffb414"/><circle cx="196.0" cy="209.7" r="0.72" fill="#d2c814"/><circle cx="195.5" cy="221.1" r="0.72" fill="#ffb414"/><circle cx="189.0" cy="214.9" r="0.72" fill="#d2c814"/><circle cx="193.1" cy="212.9" r="0.72" fill="#ffc805"/><circle cx="200.0" cy="212.4" r="0.72" fill="#ffc805"/><circle cx="186.5" cy="225.0" r="0.72" fill="#ffc805"/><circle cx="199.2" cy="213.6" r="0.72" fill="#ffc805"/><circle cx="197.2" cy="212.0" r="0.72" fill="#ffc805"/><circle cx="196.8" cy="211.2" r="0.72" fill="#ffc805"/><circle cx="191.4" cy="217.0" r="0.72" fill="#ffc805"/><circle cx="194.3" cy="211.9" r="0.72" fill="#ffc805"/><circle cx="199.2" cy="215.0" r="0.72" fill="#ffb414"/><circle cx="190.0" cy="218.2" r="0.72" fill="#ffc805"/><circle cx="195.6" cy="221.9" r="0.72" fill="#ffb414"/><circle cx="192.1" cy="214.5" r="0.72" fill="#ffc805"/><circle cx="199.3" cy="211.9" r="0.72" fill="#ffc805"/><circle cx="190.7" cy="220.5" r="0.72" fill="#ffc805"/><circle cx="200.6" cy="206.6" r="0.72" fill="#ffc805"/><circle cx="205.8" cy="204.9" r="0.72" fill="#ffc805"/><circle cx="199.5" cy="224.4" r="0.72" fill="#ff8c14"/><circle cx="193.4" cy="216.6" r="0.72" fill="#ffc805"/><circle cx="200.2" cy="218.1" r="0.72" fill="#ffb414"/><circle cx="189.0" cy="215.4" r="0.72" fill="#d2c814"/><circle cx="191.0" cy="207.9" r="0.72" fill="#d2c814"/><circle cx="209.5" cy="207.4" r="0.72" fill="#ffb414"/><circle cx="189.6" cy="219.2" r="0.72" fill="#ffc805"/><circle cx="190.4" cy="220.0" r="0.72" fill="#ffc805"/><circle cx="193.2" cy="215.4" r="0.72" fill="#ffc805"/><circle cx="188.4" cy="217.6" r="0.72" fill="#ffc805"/><circle cx="202.7" cy="204.6" r="0.72" fill="#ffc805"/><circle cx="206.2" cy="211.8" r="0.72" fill="#ffb414"/><circle cx="190.4" cy="212.2" r="0.72" fill="#d2c814"/><circle cx="183.8" cy="224.0" r="0.72" fill="#ffc805"/><circle cx="202.6" cy="209.0" r="0.72" fill="#ffc805"/><circle cx="202.2" cy="205.6" r="0.72" fill="#ffc805"/><circle cx="200.3" cy="208.8" r="0.72" fill="#ffc805"/><circle cx="202.5" cy="214.2" r="0.72" fill="#ffb414"/><circle cx="189.4" cy="222.6" r="0.72" fill="#ffc805"/><circle cx="193.9" cy="218.4" r="0.72" fill="#ffc805"/><circle cx="186.0" cy="222.3" r="0.72" fill="#ffc805"/><circle cx="185.8" cy="217.3" r="0.72" fill="#d2c814"/><circle cx="201.3" cy="216.6" r="0.72" fill="#ffb414"/><circle cx="190.6" cy="216.8" r="0.72" fill="#ffc805"/><circle cx="209.7" cy="202.4" r="0.72" fill="#ffc805"/><circle cx="195.5" cy="212.9" r="0.72" fill="#ffc805"/><circle cx="190.8" cy="216.6" r="0.72" fill="#ffc805"/><circle cx="200.1" cy="205.5" r="0.72" fill="#d2c814"/><circle cx="206.6" cy="205.2" r="0.72" fill="#ffc805"/><circle cx="198.1" cy="209.7" r="0.72" fill="#ffc805"/><circle cx="187.1" cy="218.9" r="0.72" fill="#ffc805"/><circle cx="197.4" cy="206.3" r="0.72" fill="#d2c814"/><circle cx="203.9" cy="217.3" r="0.72" fill="#ff8c14"/><circle cx="191.8" cy="212.5" r="0.72" fill="#d2c814"/><circle cx="190.0" cy="220.3" r="0.72" fill="#ffc805"/><circle cx="201.6" cy="212.1" r="0.72" fill="#ffb414"/><circle cx="195.9" cy="219.1" r="0.72" fill="#ffb414"/><circle cx="187.8" cy="224.7" r="0.72" fill="#ffc805"/><circle cx="192.5" cy="219.0" r="0.72" fill="#ffc805"/><circle cx="190.1" cy="222.1" r="0.72" fill="#ffc805"/><circle cx="196.9" cy="212.1" r="0.72" fill="#ffc805"/><circle cx="195.7" cy="221.4" r="0.72" fill="#ffb414"/><circle cx="202.4" cy="204.2" r="0.72" fill="#ffc805"/><circle cx="199.6" cy="211.2" r="0.72" fill="#ffc805"/><circle cx="184.9" cy="222.7" r="0.72" fill="#ffc805"/><circle cx="197.6" cy="216.7" r="0.72" fill="#ffb414"/><circle cx="200.8" cy="214.8" r="0.72" fill="#ffb414"/><circle cx="197.9" cy="218.3" r="0.72" fill="#ffb414"/><circle cx="201.7" cy="213.2" r="0.72" fill="#ffb414"/><circle cx="191.4" cy="218.1" r="0.72" fill="#ffc805"/><circle cx="188.8" cy="220.8" r="0.72" fill="#ffc805"/><circle cx="201.0" cy="217.3" r="0.72" fill="#ffb414"/><circle cx="188.1" cy="221.7" r="0.72" fill="#ffc805"/><circle cx="200.5" cy="215.4" r="0.72" fill="#ffb414"/><circle cx="201.6" cy="210.2" r="0.72" fill="#ffc805"/><circle cx="190.3" cy="211.1" r="0.72" fill="#d2c814"/><circle cx="193.0" cy="214.4" r="0.72" fill="#ffc805"/><circle cx="185.9" cy="223.4" r="0.72" fill="#ffc805"/><circle cx="186.4" cy="223.3" r="0.72" fill="#ffc805"/><circle cx="187.5" cy="224.7" r="0.72" fill="#ffc805"/><circle cx="192.6" cy="224.5" r="0.72" fill="#ffb414"/><circle cx="197.4" cy="210.8" r="0.72" fill="#ffc805"/><circle cx="200.2" cy="215.1" r="0.72" fill="#ffb414"/><circle cx="199.9" cy="211.9" r="0.72" fill="#ffc805"/><circle cx="187.3" cy="223.4" r="0.72" fill="#ffc805"/><circle cx="188.1" cy="220.2" r="0.72" fill="#ffc805"/><circle cx="199.4" cy="206.5" r="0.72" fill="#ffc805"/><circle cx="194.5" cy="218.9" r="0.72" fill="#ffb414"/><circle cx="185.0" cy="223.6" r="0.72" fill="#ffc805"/><circle cx="206.9" cy="210.5" r="0.72" fill="#ffb414"/><circle cx="189.4" cy="215.9" r="0.72" fill="#d2c814"/><circle cx="196.6" cy="218.8" r="0.72" fill="#ffb414"/><circle cx="196.3" cy="219.5" r="0.72" fill="#ffb414"/><circle cx="204.1" cy="215.0" r="0.72" fill="#ffb414"/><circle cx="192.0" cy="223.3" r="0.72" fill="#ffb414"/><circle cx="201.5" cy="208.9" r="0.72" fill="#ffc805"/><circle cx="190.2" cy="208.2" r="0.72" fill="#d2c814"/><circle cx="202.2" cy="214.6" r="0.72" fill="#ffb414"/><circle cx="190.0" cy="215.1" r="0.72" fill="#d2c814"/><circle cx="192.6" cy="216.2" r="0.72" fill="#ffc805"/><circle cx="207.3" cy="211.5" r="0.72" fill="#ffb414"/><circle cx="197.0" cy="215.3" r="0.72" fill="#ffc805"/><circle cx="195.7" cy="216.1" r="0.72" fill="#ffc805"/><circle cx="209.5" cy="208.1" r="0.72" fill="#ffb414"/><circle cx="197.3" cy="205.7" r="0.72" fill="#d2c814"/><circle cx="189.7" cy="223.1" r="0.72" fill="#ffc805"/><circle cx="199.7" cy="210.6" r="0.72" fill="#ffc805"/><circle cx="187.3" cy="219.7" r="0.72" fill="#ffc805"/><circle cx="202.3" cy="212.8" r="0.72" fill="#ffb414"/><circle cx="202.8" cy="209.4" r="0.72" fill="#ffc805"/><circle cx="191.3" cy="214.6" r="0.72" fill="#ffc805"/><circle cx="190.9" cy="217.9" r="0.72" fill="#ffc805"/><circle cx="196.1" cy="213.0" r="0.72" fill="#ffc805"/><circle cx="195.1" cy="212.6" r="0.72" fill="#ffc805"/><circle cx="188.6" cy="224.9" r="0.72" fill="#ffb414"/><circle cx="198.7" cy="206.7" r="0.72" fill="#d2c814"/><circle cx="198.4" cy="203.5" r="0.72" fill="#d2c814"/><circle cx="192.2" cy="213.5" r="0.72" fill="#d2c814"/><circle cx="192.4" cy="213.2" r="0.72" fill="#d2c814"/><circle cx="193.2" cy="222.9" r="0.72" fill="#ffb414"/><circle cx="197.0" cy="214.7" r="0.72" fill="#ffc805"/><circle cx="187.0" cy="224.8" r="0.72" fill="#ffc805"/><circle cx="198.8" cy="215.4" r="0.72" fill="#ffb414"/><circle cx="193.8" cy="212.4" r="0.72" fill="#ffc805"/><circle cx="190.8" cy="222.1" r="0.72" fill="#ffc805"/><circle cx="186.1" cy="222.5" r="0.72" fill="#ffc805"/><circle cx="187.3" cy="224.1" r="0.72" fill="#ffc805"/><circle cx="197.3" cy="214.6" r="0.72" fill="#ffc805"/><circle cx="188.7" cy="219.7" r="0.72" fill="#ffc805"/><circle cx="195.4" cy="218.3" r="0.72" fill="#ffb414"/><circle cx="201.9" cy="213.7" r="0.72" fill="#ffb414"/><circle cx="201.7" cy="202.8" r="0.72" fill="#d2c814"/><circle cx="205.1" cy="213.5" r="0.72" fill="#ffb414"/><circle cx="193.1" cy="221.5" r="0.72" fill="#ffb414"/><circle cx="188.0" cy="223.1" r="0.72" fill="#ffc805"/><circle cx="201.6" cy="205.8" r="0.72" fill="#ffc805"/><circle cx="197.0" cy="205.3" r="0.72" fill="#d2c814"/><circle cx="202.3" cy="209.0" r="0.72" fill="#ffc805"/><circle cx="195.1" cy="218.6" r="0.72" fill="#ffb414"/><circle cx="202.7" cy="211.9" r="0.72" fill="#ffb414"/><circle cx="200.5" cy="207.2" r="0.72" fill="#ffc805"/><circle cx="199.6" cy="216.2" r="0.72" fill="#ffb414"/><circle cx="198.2" cy="207.1" r="0.72" fill="#d2c814"/><circle cx="197.6" cy="207.8" r="0.72" fill="#d2c814"/><circle cx="196.5" cy="214.2" r="0.72" fill="#ffc805"/><circle cx="196.4" cy="211.8" r="0.72" fill="#ffc805"/><circle cx="201.4" cy="207.8" r="0.72" fill="#ffc805"/><circle cx="191.7" cy="211.4" r="0.72" fill="#d2c814"/><circle cx="206.2" cy="212.0" r="0.72" fill="#ffb414"/><circle cx="194.3" cy="211.1" r="0.72" fill="#d2c814"/><circle cx="201.4" cy="212.6" r="0.72" fill="#ffb414"/><circle cx="194.4" cy="219.3" r="0.72" fill="#ffb414"/><circle cx="193.4" cy="216.3" r="0.72" fill="#ffc805"/><circle cx="208.1" cy="207.1" r="0.72" fill="#ffb414"/><circle cx="193.0" cy="221.3" r="0.72" fill="#ffb414"/><circle cx="186.7" cy="225.5" r="0.72" fill="#ffc805"/><circle cx="190.4" cy="222.9" r="0.72" fill="#ffc805"/><circle cx="192.9" cy="210.9" r="0.72" fill="#d2c814"/><circle cx="208.9" cy="197.3" r="0.72" fill="#ffc805"/><circle cx="196.3" cy="211.9" r="0.72" fill="#ffc805"/><circle cx="201.0" cy="206.2" r="0.72" fill="#ffc805"/><circle cx="188.5" cy="222.5" r="0.72" fill="#ffc805"/><circle cx="197.3" cy="214.3" r="0.72" fill="#ffc805"/><circle cx="199.3" cy="211.3" r="0.72" fill="#ffc805"/><circle cx="206.6" cy="211.9" r="0.72" fill="#ffb414"/><circle cx="190.5" cy="223.1" r="0.72" fill="#ffb414"/><circle cx="198.9" cy="212.4" r="0.72" fill="#ffc805"/><circle cx="196.9" cy="215.6" r="0.72" fill="#ffc805"/><circle cx="188.4" cy="224.9" r="0.72" fill="#ffc805"/><circle cx="194.9" cy="214.1" r="0.72" fill="#ffc805"/><circle cx="193.3" cy="218.0" r="0.72" fill="#ffc805"/><circle cx="198.1" cy="209.0" r="0.72" fill="#ffc805"/><circle cx="198.9" cy="212.9" r="0.72" fill="#ffc805"/><circle cx="198.5" cy="214.4" r="0.72" fill="#ffc805"/><circle cx="192.1" cy="217.1" r="0.72" fill="#ffc805"/><circle cx="186.3" cy="222.6" r="0.72" fill="#ffc805"/><circle cx="204.6" cy="211.6" r="0.72" fill="#ffb414"/><circle cx="196.7" cy="216.1" r="0.72" fill="#ffc805"/><circle cx="201.6" cy="207.7" r="0.72" fill="#ffc805"/><circle cx="204.1" cy="206.3" r="0.72" fill="#ffc805"/><circle cx="191.6" cy="212.6" r="0.72" fill="#d2c814"/><circle cx="200.2" cy="219.0" r="0.72" fill="#ffb414"/><circle cx="193.4" cy="218.4" r="0.72" fill="#ffc805"/><circle cx="194.6" cy="217.7" r="0.72" fill="#ffc805"/><circle cx="194.4" cy="215.3" r="0.72" fill="#ffc805"/><circle cx="195.0" cy="217.5" r="0.72" fill="#ffc805"/><circle cx="202.2" cy="212.6" r="0.72" fill="#ffb414"/><circle cx="195.8" cy="211.7" r="0.72" fill="#ffc805"/><circle cx="194.0" cy="215.6" r="0.72" fill="#ffc805"/><circle cx="193.2" cy="221.9" r="0.72" fill="#ffb414"/><circle cx="197.2" cy="208.4" r="0.72" fill="#d2c814"/><circle cx="189.2" cy="215.5" r="0.72" fill="#d2c814"/><circle cx="191.7" cy="220.4" r="0.72" fill="#ffc805"/><circle cx="194.6" cy="212.3" r="0.72" fill="#ffc805"/><circle cx="191.3" cy="221.4" r="0.72" fill="#ffc805"/><circle cx="194.2" cy="211.4" r="0.72" fill="#d2c814"/><circle cx="191.0" cy="219.4" r="0.72" fill="#ffc805"/><circle cx="208.0" cy="209.7" r="0.72" fill="#ffb414"/><circle cx="203.6" cy="211.0" r="0.72" fill="#ffb414"/><circle cx="197.9" cy="216.8" r="0.72" fill="#ffb414"/><circle cx="194.6" cy="215.1" r="0.72" fill="#ffc805"/><circle cx="209.2" cy="204.7" r="0.72" fill="#ffb414"/><circle cx="197.1" cy="214.0" r="0.72" fill="#ffc805"/><circle cx="194.4" cy="218.4" r="0.72" fill="#ffc805"/><circle cx="196.9" cy="224.0" r="0.72" fill="#ff8c14"/><circle cx="197.0" cy="213.8" r="0.72" fill="#ffc805"/><circle cx="204.1" cy="217.1" r="0.72" fill="#ff8c14"/><circle cx="194.9" cy="214.7" r="0.72" fill="#ffc805"/><circle cx="208.6" cy="201.1" r="0.72" fill="#ffc805"/><circle cx="189.3" cy="218.6" r="0.72" fill="#ffc805"/><circle cx="199.5" cy="214.1" r="0.72" fill="#ffb414"/><circle cx="188.5" cy="221.0" r="0.72" fill="#ffc805"/><circle cx="206.7" cy="207.8" r="0.72" fill="#ffb414"/><circle cx="192.8" cy="219.5" r="0.72" fill="#ffc805"/><circle cx="194.6" cy="218.4" r="0.72" fill="#ffc805"/><circle cx="201.0" cy="215.3" r="0.72" fill="#ffb414"/><circle cx="203.1" cy="204.7" r="0.72" fill="#ffc805"/><circle cx="187.8" cy="220.9" r="0.72" fill="#ffc805"/><circle cx="192.7" cy="213.2" r="0.72" fill="#ffc805"/><circle cx="185.9" cy="223.2" r="0.72" fill="#ffc805"/><circle cx="195.9" cy="214.7" r="0.72" fill="#ffc805"/><circle cx="194.3" cy="216.8" r="0.72" fill="#ffc805"/><circle cx="192.7" cy="215.3" r="0.72" fill="#ffc805"/><circle cx="190.5" cy="215.3" r="0.72" fill="#ffc805"/><circle cx="192.5" cy="216.4" r="0.72" fill="#ffc805"/><circle cx="190.1" cy="222.0" r="0.72" fill="#ffc805"/><circle cx="198.4" cy="216.5" r="0.72" fill="#ffb414"/><circle cx="204.8" cy="201.5" r="0.72" fill="#ffc805"/><circle cx="204.4" cy="210.0" r="0.72" fill="#ffb414"/><circle cx="194.2" cy="217.4" r="0.72" fill="#ffc805"/><circle cx="192.3" cy="211.3" r="0.72" fill="#d2c814"/><circle cx="198.2" cy="208.7" r="0.72" fill="#ffc805"/><circle cx="188.8" cy="217.8" r="0.72" fill="#ffc805"/><circle cx="194.0" cy="218.0" r="0.72" fill="#ffc805"/><circle cx="188.2" cy="210.5" r="0.72" fill="#d2c814"/><circle cx="199.5" cy="210.7" r="0.72" fill="#ffc805"/><circle cx="195.6" cy="212.8" r="0.72" fill="#ffc805"/><circle cx="193.9" cy="217.1" r="0.72" fill="#ffc805"/><circle cx="197.4" cy="219.9" r="0.72" fill="#ffb414"/><circle cx="193.4" cy="222.4" r="0.72" fill="#ffb414"/><circle cx="184.9" cy="221.1" r="0.72" fill="#ffc805"/><circle cx="198.8" cy="211.2" r="0.72" fill="#ffc805"/><circle cx="196.8" cy="215.3" r="0.72" fill="#ffc805"/><circle cx="194.0" cy="221.3" r="0.72" fill="#ffb414"/><circle cx="201.4" cy="217.2" r="0.72" fill="#ffb414"/><circle cx="202.9" cy="211.4" r="0.72" fill="#ffb414"/><circle cx="187.9" cy="224.8" r="0.72" fill="#ffc805"/><circle cx="189.9" cy="215.4" r="0.72" fill="#d2c814"/><circle cx="205.0" cy="203.5" r="0.72" fill="#ffc805"/><circle cx="204.2" cy="197.0" r="0.72" fill="#d2c814"/><circle cx="190.2" cy="215.3" r="0.72" fill="#d2c814"/><circle cx="187.3" cy="223.6" r="0.72" fill="#ffc805"/><circle cx="190.9" cy="222.3" r="0.72" fill="#ffc805"/><circle cx="191.8" cy="223.4" r="0.72" fill="#ffb414"/><circle cx="184.7" cy="222.8" r="0.72" fill="#ffc805"/><circle cx="195.2" cy="216.2" r="0.72" fill="#ffc805"/><circle cx="186.7" cy="217.5" r="0.72" fill="#d2c814"/><circle cx="187.1" cy="218.6" r="0.72" fill="#ffc805"/><circle cx="200.9" cy="208.9" r="0.72" fill="#ffc805"/><circle cx="190.6" cy="217.9" r="0.72" fill="#ffc805"/><circle cx="194.5" cy="213.1" r="0.72" fill="#ffc805"/><circle cx="199.1" cy="206.6" r="0.72" fill="#d2c814"/><circle cx="200.2" cy="216.4" r="0.72" fill="#ffb414"/><circle cx="192.8" cy="219.1" r="0.72" fill="#ffc805"/><circle cx="195.3" cy="221.3" r="0.72" fill="#ffb414"/><circle cx="189.6" cy="212.6" r="0.72" fill="#d2c814"/><circle cx="206.3" cy="202.0" r="0.72" fill="#ffc805"/><circle cx="199.2" cy="209.4" r="0.72" fill="#ffc805"/><circle cx="187.8" cy="225.1" r="0.72" fill="#ffc805"/><circle cx="195.0" cy="214.9" r="0.72" fill="#ffc805"/><circle cx="199.6" cy="213.3" r="0.72" fill="#ffc805"/><circle cx="198.1" cy="213.1" r="0.72" fill="#ffc805"/><circle cx="206.8" cy="207.9" r="0.72" fill="#ffb414"/><circle cx="203.9" cy="207.0" r="0.72" fill="#ffc805"/><circle cx="191.5" cy="219.8" r="0.72" fill="#ffc805"/><circle cx="194.4" cy="212.4" r="0.72" fill="#ffc805"/><circle cx="186.7" cy="220.5" r="0.72" fill="#ffc805"/><circle cx="196.6" cy="215.7" r="0.72" fill="#ffc805"/><circle cx="196.0" cy="215.4" r="0.72" fill="#ffc805"/><circle cx="194.9" cy="217.6" r="0.72" fill="#ffc805"/><circle cx="195.6" cy="211.7" r="0.72" fill="#ffc805"/><circle cx="207.0" cy="208.2" r="0.72" fill="#ffb414"/><circle cx="190.6" cy="217.5" r="0.72" fill="#ffc805"/><circle cx="195.7" cy="216.8" r="0.72" fill="#ffc805"/><circle cx="186.8" cy="224.0" r="0.72" fill="#ffc805"/><circle cx="189.4" cy="215.8" r="0.72" fill="#d2c814"/><circle cx="192.6" cy="221.8" r="0.72" fill="#ffb414"/><circle cx="197.2" cy="211.1" r="0.72" fill="#ffc805"/><circle cx="193.9" cy="214.6" r="0.72" fill="#ffc805"/><circle cx="189.2" cy="226.3" r="0.72" fill="#ffb414"/><circle cx="200.1" cy="216.0" r="0.72" fill="#ffb414"/><circle cx="191.5" cy="220.3" r="0.72" fill="#ffc805"/><circle cx="191.7" cy="221.4" r="0.72" fill="#ffc805"/><circle cx="186.0" cy="225.9" r="0.72" fill="#ffc805"/><circle cx="189.9" cy="216.1" r="0.72" fill="#ffc805"/><circle cx="199.2" cy="213.6" r="0.72" fill="#ffc805"/><circle cx="184.5" cy="221.5" r="0.72" fill="#ffc805"/><circle cx="194.5" cy="217.8" r="0.72" fill="#ffc805"/><circle cx="199.6" cy="211.0" r="0.72" fill="#ffc805"/><circle cx="192.5" cy="220.6" r="0.72" fill="#ffc805"/><circle cx="196.5" cy="214.6" r="0.72" fill="#ffc805"/><circle cx="187.7" cy="218.3" r="0.72" fill="#ffc805"/><circle cx="203.5" cy="209.3" r="0.72" fill="#ffc805"/><circle cx="202.1" cy="212.5" r="0.72" fill="#ffb414"/><circle cx="196.5" cy="219.1" r="0.72" fill="#ffb414"/><circle cx="183.6" cy="223.1" r="0.72" fill="#ffc805"/><circle cx="188.2" cy="219.0" r="0.72" fill="#ffc805"/><circle cx="201.3" cy="212.2" r="0.72" fill="#ffb414"/><circle cx="206.1" cy="210.9" r="0.72" fill="#ffb414"/><circle cx="196.9" cy="211.9" r="0.72" fill="#ffc805"/><circle cx="203.1" cy="199.3" r="0.72" fill="#d2c814"/><circle cx="191.0" cy="219.7" r="0.72" fill="#ffc805"/><circle cx="193.8" cy="215.1" r="0.72" fill="#ffc805"/><circle cx="195.0" cy="214.0" r="0.72" fill="#ffc805"/><circle cx="197.7" cy="224.0" r="0.72" fill="#ff8c14"/><circle cx="185.1" cy="222.2" r="0.72" fill="#ffc805"/><circle cx="201.1" cy="214.3" r="0.72" fill="#ffb414"/><circle cx="203.5" cy="203.6" r="0.72" fill="#ffc805"/><circle cx="187.5" cy="222.0" r="0.72" fill="#ffc805"/><circle cx="186.2" cy="224.0" r="0.72" fill="#ffc805"/><circle cx="197.3" cy="214.9" r="0.72" fill="#ffc805"/><circle cx="190.7" cy="218.0" r="0.72" fill="#ffc805"/><circle cx="188.8" cy="222.4" r="0.72" fill="#ffc805"/><circle cx="200.2" cy="212.1" r="0.72" fill="#ffc805"/><circle cx="196.0" cy="220.7" r="0.72" fill="#ffb414"/><circle cx="191.9" cy="218.8" r="0.72" fill="#ffc805"/><circle cx="208.7" cy="202.5" r="0.72" fill="#ffc805"/><circle cx="195.9" cy="206.6" r="0.72" fill="#d2c814"/><circle cx="190.1" cy="216.1" r="0.72" fill="#ffc805"/><circle cx="195.6" cy="214.0" r="0.72" fill="#ffc805"/><circle cx="188.2" cy="215.4" r="0.72" fill="#d2c814"/><circle cx="204.3" cy="202.4" r="0.72" fill="#ffc805"/><circle cx="199.2" cy="206.0" r="0.72" fill="#d2c814"/><circle cx="203.1" cy="205.2" r="0.72" fill="#ffc805"/><circle cx="204.7" cy="202.8" r="0.72" fill="#ffc805"/><circle cx="195.6" cy="208.1" r="0.72" fill="#d2c814"/><circle cx="202.5" cy="202.7" r="0.72" fill="#d2c814"/><circle cx="200.4" cy="203.7" r="0.72" fill="#d2c814"/><circle cx="207.1" cy="202.3" r="0.72" fill="#ffc805"/><circle cx="210.4" cy="196.4" r="0.72" fill="#ffc805"/><circle cx="206.7" cy="199.6" r="0.72" fill="#ffc805"/><circle cx="207.6" cy="197.3" r="0.72" fill="#d2c814"/><circle cx="206.7" cy="199.7" r="0.72" fill="#ffc805"/><circle cx="199.9" cy="203.0" r="0.72" fill="#d2c814"/><circle cx="202.1" cy="203.0" r="0.72" fill="#d2c814"/><circle cx="211.1" cy="194.0" r="0.72" fill="#d2c814"/><circle cx="213.0" cy="192.0" r="0.72" fill="#d2c814"/><circle cx="198.4" cy="205.0" r="0.72" fill="#d2c814"/><circle cx="195.2" cy="210.9" r="0.72" fill="#ffc805"/><circle cx="213.3" cy="189.2" r="0.72" fill="#d2c814"/><circle cx="211.4" cy="192.7" r="0.72" fill="#d2c814"/><circle cx="206.6" cy="198.1" r="0.72" fill="#d2c814"/><circle cx="210.5" cy="194.4" r="0.72" fill="#d2c814"/><circle cx="206.3" cy="197.6" r="0.72" fill="#d2c814"/><circle cx="212.2" cy="190.5" r="0.72" fill="#d2c814"/><circle cx="199.6" cy="203.2" r="0.72" fill="#d2c814"/><circle cx="203.4" cy="200.7" r="0.72" fill="#d2c814"/><circle cx="207.8" cy="195.3" r="0.72" fill="#d2c814"/><circle cx="199.1" cy="205.6" r="0.72" fill="#d2c814"/><circle cx="210.9" cy="207.7" r="0.72" fill="#ffb414"/><circle cx="216.8" cy="198.4" r="0.72" fill="#ffb414"/><circle cx="216.4" cy="201.6" r="0.72" fill="#ffb414"/><circle cx="218.7" cy="203.6" r="0.72" fill="#ff8c14"/><circle cx="217.0" cy="203.5" r="0.72" fill="#ffb414"/><circle cx="208.1" cy="201.2" r="0.72" fill="#ffc805"/><circle cx="201.7" cy="217.8" r="0.72" fill="#ffb414"/><circle cx="218.5" cy="197.7" r="0.72" fill="#ffb414"/><circle cx="203.5" cy="209.1" r="0.72" fill="#ffc805"/><circle cx="211.6" cy="202.1" r="0.72" fill="#ffb414"/><circle cx="204.2" cy="214.7" r="0.72" fill="#ffb414"/><circle cx="215.6" cy="202.0" r="0.72" fill="#ffb414"/><circle cx="202.9" cy="211.2" r="0.72" fill="#ffb414"/><circle cx="207.4" cy="205.1" r="0.72" fill="#ffc805"/><circle cx="203.3" cy="213.5" r="0.72" fill="#ffb414"/><circle cx="216.5" cy="204.1" r="0.72" fill="#ffb414"/><circle cx="211.5" cy="200.9" r="0.72" fill="#ffc805"/><circle cx="211.8" cy="200.4" r="0.72" fill="#ffc805"/><circle cx="205.3" cy="208.4" r="0.72" fill="#ffb414"/><circle cx="202.4" cy="214.1" r="0.72" fill="#ffb414"/><circle cx="216.4" cy="198.8" r="0.72" fill="#ffb414"/><circle cx="214.5" cy="201.4" r="0.72" fill="#ffb414"/><circle cx="213.9" cy="199.5" r="0.72" fill="#ffc805"/><circle cx="219.3" cy="202.0" r="0.72" fill="#ff8c14"/><circle cx="210.3" cy="205.0" r="0.72" fill="#ffb414"/><circle cx="202.5" cy="212.6" r="0.72" fill="#ffb414"/><circle cx="211.3" cy="208.3" r="0.72" fill="#ffb414"/><circle cx="204.7" cy="209.4" r="0.72" fill="#ffb414"/><circle cx="209.3" cy="206.1" r="0.72" fill="#ffb414"/><circle cx="208.2" cy="208.5" r="0.72" fill="#ffb414"/><circle cx="210.4" cy="204.0" r="0.72" fill="#ffb414"/><circle cx="217.7" cy="203.9" r="0.72" fill="#ff8c14"/><circle cx="215.5" cy="201.2" r="0.72" fill="#ffb414"/><circle cx="207.3" cy="206.4" r="0.72" fill="#ffb414"/><circle cx="215.6" cy="199.9" r="0.72" fill="#ffb414"/><circle cx="216.5" cy="196.5" r="0.72" fill="#ffc805"/><circle cx="214.7" cy="205.8" r="0.72" fill="#ffb414"/><circle cx="210.1" cy="210.7" r="0.72" fill="#ffb414"/><circle cx="217.3" cy="198.7" r="0.72" fill="#ffb414"/><circle cx="208.9" cy="205.0" r="0.72" fill="#ffb414"/><circle cx="201.0" cy="206.0" r="0.72" fill="#ffc805"/><circle cx="204.4" cy="208.3" r="0.72" fill="#ffc805"/><circle cx="212.3" cy="206.7" r="0.72" fill="#ffb414"/><circle cx="206.6" cy="205.8" r="0.72" fill="#ffc805"/><circle cx="207.5" cy="210.7" r="0.72" fill="#ffb414"/><circle cx="207.1" cy="213.2" r="0.72" fill="#ffb414"/><circle cx="202.7" cy="202.9" r="0.72" fill="#d2c814"/><circle cx="200.7" cy="212.4" r="0.72" fill="#ffc805"/><circle cx="199.8" cy="211.8" r="0.72" fill="#ffc805"/><circle cx="212.6" cy="201.5" r="0.72" fill="#ffb414"/><circle cx="205.5" cy="203.3" r="0.72" fill="#ffc805"/><circle cx="208.2" cy="206.2" r="0.72" fill="#ffb414"/><circle cx="218.0" cy="194.7" r="0.72" fill="#ffc805"/><circle cx="211.7" cy="207.7" r="0.72" fill="#ffb414"/><circle cx="215.5" cy="205.8" r="0.72" fill="#ff8c14"/><circle cx="214.5" cy="197.0" r="0.72" fill="#ffc805"/><circle cx="218.4" cy="193.5" r="0.72" fill="#ffc805"/><circle cx="200.2" cy="212.2" r="0.72" fill="#ffc805"/><circle cx="206.7" cy="207.7" r="0.72" fill="#ffb414"/><circle cx="218.3" cy="198.0" r="0.72" fill="#ffb414"/><circle cx="208.3" cy="209.4" r="0.72" fill="#ffb414"/><circle cx="218.3" cy="193.4" r="0.72" fill="#ffc805"/><circle cx="202.6" cy="209.7" r="0.72" fill="#ffc805"/><circle cx="200.0" cy="212.4" r="0.72" fill="#ffc805"/><circle cx="217.2" cy="198.3" r="0.72" fill="#ffb414"/><circle cx="207.3" cy="204.4" r="0.72" fill="#ffc805"/><circle cx="209.2" cy="204.6" r="0.72" fill="#ffb414"/><circle cx="218.1" cy="196.3" r="0.72" fill="#ffb414"/><circle cx="203.3" cy="215.3" r="0.72" fill="#ffb414"/><circle cx="218.7" cy="196.5" r="0.72" fill="#ffb414"/><circle cx="206.9" cy="200.8" r="0.72" fill="#ffc805"/><circle cx="203.9" cy="212.6" r="0.72" fill="#ffb414"/><circle cx="203.6" cy="211.5" r="0.72" fill="#ffb414"/><circle cx="209.5" cy="203.1" r="0.72" fill="#ffc805"/><circle cx="208.4" cy="203.7" r="0.72" fill="#ffc805"/><circle cx="217.0" cy="197.6" r="0.72" fill="#ffb414"/><circle cx="199.8" cy="219.8" r="0.72" fill="#ffb414"/><circle cx="199.7" cy="212.7" r="0.72" fill="#ffc805"/><circle cx="201.9" cy="216.5" r="0.72" fill="#ffb414"/><circle cx="211.3" cy="207.4" r="0.72" fill="#ffb414"/><circle cx="214.9" cy="199.7" r="0.72" fill="#ffb414"/><circle cx="208.7" cy="207.8" r="0.72" fill="#ffb414"/><circle cx="211.4" cy="201.7" r="0.72" fill="#ffc805"/><circle cx="212.0" cy="193.2" r="0.72" fill="#d2c814"/><circle cx="199.2" cy="212.1" r="0.72" fill="#ffc805"/><circle cx="203.9" cy="208.4" r="0.72" fill="#ffc805"/><circle cx="219.3" cy="200.8" r="0.72" fill="#ffb414"/><circle cx="205.6" cy="211.6" r="0.72" fill="#ffb414"/><circle cx="218.3" cy="202.3" r="0.72" fill="#ffb414"/><circle cx="208.9" cy="208.4" r="0.72" fill="#ffb414"/><circle cx="203.4" cy="215.0" r="0.72" fill="#ffb414"/><circle cx="198.8" cy="217.3" r="0.72" fill="#ffb414"/><circle cx="203.3" cy="212.1" r="0.72" fill="#ffb414"/><circle cx="205.4" cy="212.9" r="0.72" fill="#ffb414"/><circle cx="207.8" cy="212.3" r="0.72" fill="#ffb414"/><circle cx="208.0" cy="212.0" r="0.72" fill="#ffb414"/><circle cx="210.1" cy="204.0" r="0.72" fill="#ffb414"/><circle cx="208.5" cy="206.7" r="0.72" fill="#ffb414"/><circle cx="199.5" cy="211.1" r="0.72" fill="#ffc805"/><circle cx="204.3" cy="206.9" r="0.72" fill="#ffc805"/><circle cx="226.3" cy="187.5" r="0.72" fill="#ffb414"/><circle cx="218.2" cy="200.7" r="0.72" fill="#ffb414"/><circle cx="216.0" cy="199.9" r="0.72" fill="#ffb414"/><circle cx="217.0" cy="198.2" r="0.72" fill="#ffb414"/><circle cx="226.5" cy="189.1" r="0.72" fill="#ffb414"/><circle cx="212.1" cy="209.2" r="0.72" fill="#ff8c14"/><circle cx="230.2" cy="182.6" r="0.72" fill="#ffc805"/><circle cx="223.9" cy="191.5" r="0.72" fill="#ffb414"/><circle cx="216.8" cy="200.9" r="0.72" fill="#ffb414"/><circle cx="216.2" cy="203.2" r="0.72" fill="#ffb414"/><circle cx="225.7" cy="196.7" r="0.72" fill="#ff8c14"/><circle cx="225.2" cy="196.2" r="0.72" fill="#ff8c14"/><circle cx="218.5" cy="196.4" r="0.72" fill="#ffb414"/><circle cx="218.9" cy="198.7" r="0.72" fill="#ffb414"/><circle cx="221.6" cy="198.7" r="0.72" fill="#ffb414"/><circle cx="231.2" cy="188.3" r="0.72" fill="#ffb414"/><circle cx="223.2" cy="189.1" r="0.72" fill="#ffc805"/><circle cx="229.7" cy="189.0" r="0.72" fill="#ffb414"/><circle cx="225.4" cy="193.6" r="0.72" fill="#ffb414"/><circle cx="223.7" cy="189.2" r="0.72" fill="#ffc805"/><circle cx="222.2" cy="193.3" r="0.72" fill="#ffb414"/><circle cx="226.3" cy="190.9" r="0.72" fill="#ffb414"/><circle cx="222.2" cy="196.5" r="0.72" fill="#ffb414"/><circle cx="227.2" cy="194.9" r="0.72" fill="#ff8c14"/><circle cx="215.6" cy="204.2" r="0.72" fill="#ffb414"/><circle cx="218.6" cy="199.4" r="0.72" fill="#ffb414"/><circle cx="230.4" cy="188.1" r="0.72" fill="#ffb414"/><circle cx="220.2" cy="195.5" r="0.72" fill="#ffb414"/><circle cx="229.7" cy="186.3" r="0.72" fill="#ffb414"/><circle cx="231.8" cy="185.5" r="0.72" fill="#ffb414"/><circle cx="208.7" cy="214.5" r="0.72" fill="#ff8c14"/><circle cx="207.8" cy="211.6" r="0.72" fill="#ffb414"/><circle cx="204.0" cy="210.5" r="0.72" fill="#ffb414"/><circle cx="216.7" cy="207.7" r="0.72" fill="#ff8c14"/><circle cx="213.6" cy="211.1" r="0.72" fill="#ff8c14"/><circle cx="221.2" cy="204.5" r="0.72" fill="#ff8c14"/><circle cx="219.1" cy="209.7" r="0.72" fill="#ff5a14"/><circle cx="227.9" cy="202.2" r="0.72" fill="#ff5a14"/><circle cx="210.7" cy="212.2" r="0.72" fill="#ff8c14"/><circle cx="226.0" cy="192.8" r="0.72" fill="#ffb414"/><circle cx="211.9" cy="206.1" r="0.72" fill="#ffb414"/><circle cx="219.7" cy="208.9" r="0.72" fill="#ff5a14"/><circle cx="223.8" cy="207.7" r="0.72" fill="#ff5a14"/><circle cx="212.3" cy="210.8" r="0.72" fill="#ff8c14"/><circle cx="213.7" cy="214.7" r="0.72" fill="#ff8c14"/><circle cx="218.9" cy="208.9" r="0.72" fill="#ff8c14"/><circle cx="204.2" cy="215.5" r="0.72" fill="#ffb414"/><circle cx="216.1" cy="204.0" r="0.72" fill="#ffb414"/><circle cx="203.8" cy="214.5" r="0.72" fill="#ffb414"/><circle cx="207.4" cy="214.3" r="0.72" fill="#ff8c14"/><circle cx="218.6" cy="211.3" r="0.72" fill="#ff5a14"/><circle cx="228.5" cy="206.3" r="0.84" fill="#ff5a14"/><circle cx="229.3" cy="201.7" r="0.72" fill="#ff5a14"/><circle cx="208.4" cy="211.6" r="0.72" fill="#ffb414"/><circle cx="205.2" cy="208.0" r="0.72" fill="#ffc805"/><circle cx="215.7" cy="209.9" r="0.72" fill="#ff8c14"/><circle cx="213.5" cy="204.5" r="0.72" fill="#ffb414"/><circle cx="211.8" cy="208.3" r="0.72" fill="#ffb414"/><circle cx="222.7" cy="204.4" r="0.72" fill="#ff8c14"/><circle cx="221.1" cy="212.8" r="0.84" fill="#ff5a14"/><circle cx="216.9" cy="211.9" r="0.72" fill="#ff5a14"/><circle cx="218.6" cy="203.4" r="0.72" fill="#ff8c14"/><circle cx="217.5" cy="201.5" r="0.72" fill="#ffb414"/><circle cx="220.2" cy="204.8" r="0.72" fill="#ff8c14"/><circle cx="227.2" cy="199.5" r="0.72" fill="#ff8c14"/><circle cx="227.8" cy="203.7" r="0.72" fill="#ff5a14"/><circle cx="228.7" cy="203.1" r="0.72" fill="#ff5a14"/><circle cx="225.3" cy="205.8" r="0.72" fill="#ff5a14"/><circle cx="204.0" cy="209.1" r="0.72" fill="#ffc805"/><circle cx="213.8" cy="207.1" r="0.72" fill="#ffb414"/><circle cx="223.1" cy="205.1" r="0.72" fill="#ff8c14"/><circle cx="209.4" cy="211.6" r="0.72" fill="#ff8c14"/><circle cx="218.2" cy="204.3" r="0.72" fill="#ff8c14"/><circle cx="202.6" cy="212.2" r="0.72" fill="#ffb414"/><circle cx="206.8" cy="214.7" r="0.72" fill="#ff8c14"/><circle cx="212.4" cy="202.5" r="0.72" fill="#ffb414"/><circle cx="203.1" cy="212.2" r="0.72" fill="#ffb414"/><circle cx="213.0" cy="208.7" r="0.72" fill="#ff8c14"/><circle cx="207.6" cy="205.6" r="0.72" fill="#ffc805"/><circle cx="225.4" cy="199.3" r="0.72" fill="#ff8c14"/><circle cx="210.1" cy="210.4" r="0.72" fill="#ffb414"/><circle cx="211.8" cy="207.3" r="0.72" fill="#ffb414"/><circle cx="223.7" cy="208.0" r="0.72" fill="#ff5a14"/><circle cx="216.9" cy="209.5" r="0.72" fill="#ff8c14"/><circle cx="202.5" cy="222.0" r="0.72" fill="#ff8c14"/><circle cx="207.2" cy="206.7" r="0.72" fill="#ffb414"/><circle cx="218.3" cy="213.6" r="0.72" fill="#ff5a14"/><circle cx="206.7" cy="209.0" r="0.72" fill="#ffb414"/><circle cx="208.1" cy="214.1" r="0.72" fill="#ff8c14"/><circle cx="218.6" cy="209.9" r="0.72" fill="#ff8c14"/><circle cx="248.6" cy="185.2" r="0.84" fill="#ff5a14"/><circle cx="255.0" cy="187.8" r="0.84" fill="#ff3c1e"/><circle cx="270.0" cy="183.8" r="0.84" fill="#ff0000"/><circle cx="260.0" cy="193.2" r="0.84" fill="#ff0000"/><circle cx="247.0" cy="200.5" r="0.84" fill="#ff1a0a"/><circle cx="250.6" cy="203.2" r="0.84" fill="#ff0000"/><circle cx="239.9" cy="204.1" r="0.84" fill="#ff1a0a"/><circle cx="233.0" cy="204.6" r="0.84" fill="#ff3c1e"/><circle cx="227.0" cy="205.1" r="0.72" fill="#ff5a14"/><circle cx="234.0" cy="195.1" r="0.72" fill="#ff5a14"/><circle cx="241.0" cy="189.1" r="0.72" fill="#ff5a14"/><circle cx="229.0" cy="201.1" r="0.72" fill="#ff5a14"/></g>
<path d="M183.8 221.2 L187.7 219.0 L191.7 216.9 L195.7 214.8 L199.6 212.8 L203.6 210.8 L207.5 208.9 L211.5 206.9 L215.5 205.0 L219.4 203.1 L223.4 201.2 L227.3 199.3 L231.3 197.4 L235.2 195.5 L239.2 193.6 L243.2 191.7 L247.1 189.9 L251.1 188.0 L255.0 186.1 L259.0 184.3 L263.0 182.4 L266.9 180.6 L270.9 178.8 L274.8 176.9 L278.8 175.1" fill="none" stroke="#2ec6f2" stroke-width="0.95" stroke-dasharray="2.6 2.3" clip-path="url(#cpf)"/>
<rect x="164.5" y="134.9" width="114.3" height="113.8" fill="none" stroke="#878787" stroke-width="1.05"/>
<path d="M202.6 248.7v-1.7M164.5 210.8h1.7M240.7 248.7v-1.7M164.5 172.8h1.7" stroke="#555" stroke-width="0.6" fill="none"/>
<text x="164.5" y="255.7" font-size="5.7" stroke-width="0.03" fill="#1a1a1a" text-anchor="middle">0</text>
<text x="162.1" y="250.6" font-size="5.7" stroke-width="0.03" fill="#1a1a1a" text-anchor="end">0</text>
<text x="202.6" y="255.7" font-size="5.7" stroke-width="0.03" fill="#1a1a1a" text-anchor="middle">50</text>
<text x="162.1" y="212.7" font-size="5.7" stroke-width="0.03" fill="#1a1a1a" text-anchor="end">50</text>
<text x="240.7" y="255.7" font-size="5.7" stroke-width="0.03" fill="#1a1a1a" text-anchor="middle">100</text>
<text x="162.1" y="174.7" font-size="5.7" stroke-width="0.03" fill="#1a1a1a" text-anchor="end">100</text>
<text x="278.8" y="255.7" font-size="5.7" stroke-width="0.03" fill="#1a1a1a" text-anchor="middle">150</text>
<text x="162.1" y="136.8" font-size="5.7" stroke-width="0.03" fill="#1a1a1a" text-anchor="end">150</text>
<text x="166.7" y="147.0" font-size="11">(f)</text>
<text x="167.4" y="157.5" font-size="7.85" letter-spacing="0.3">2014-XT</text>
<text x="167.4" y="166.6" font-size="7.85">Model: RF</text>
<text x="204.8" y="236.9" font-size="7.85">RMSE = 12.57 t/ha</text>
<text x="204.8" y="246.1" font-size="7.85">R<tspan font-size="5.7" dy="-2.9">2</tspan><tspan dy="2.9"> = 0.62</tspan></text>
</g>
<g>
<clipPath id="cpg"><rect x="297.9" y="134.9" width="114.3" height="113.8"/></clipPath>
<line x1="297.9" y1="248.7" x2="412.2" y2="134.9" stroke="#262626" stroke-width="0.95" stroke-dasharray="1.8 1.9"/>
<g stroke="none" clip-path="url(#cpg)"><circle cx="331.3" cy="220.1" r="0.72" fill="#ffb414"/><circle cx="335.2" cy="208.8" r="0.72" fill="#ffc805"/><circle cx="338.1" cy="209.0" r="0.72" fill="#ffb414"/><circle cx="347.8" cy="201.4" r="0.72" fill="#ffb414"/><circle cx="336.0" cy="210.5" r="0.72" fill="#ffc805"/><circle cx="340.3" cy="214.3" r="0.72" fill="#ff8c14"/><circle cx="327.9" cy="221.7" r="0.72" fill="#ffb414"/><circle cx="338.9" cy="203.6" r="0.72" fill="#ffc805"/><circle cx="334.2" cy="212.4" r="0.72" fill="#ffc805"/><circle cx="329.1" cy="221.9" r="0.72" fill="#ffb414"/><circle cx="332.1" cy="213.3" r="0.72" fill="#ffc805"/><circle cx="332.4" cy="215.9" r="0.72" fill="#ffb414"/><circle cx="334.6" cy="220.2" r="0.72" fill="#ff8c14"/><circle cx="336.3" cy="220.8" r="0.72" fill="#ff8c14"/><circle cx="328.7" cy="222.9" r="0.72" fill="#ffb414"/><circle cx="326.7" cy="217.0" r="0.72" fill="#ffc805"/><circle cx="339.2" cy="210.5" r="0.72" fill="#ffb414"/><circle cx="318.7" cy="223.9" r="0.72" fill="#ffc805"/><circle cx="327.8" cy="216.3" r="0.72" fill="#ffc805"/><circle cx="346.0" cy="203.9" r="0.72" fill="#ffb414"/><circle cx="334.1" cy="221.4" r="0.72" fill="#ff8c14"/><circle cx="327.1" cy="218.9" r="0.72" fill="#ffc805"/><circle cx="338.7" cy="213.7" r="0.72" fill="#ffb414"/><circle cx="319.1" cy="227.4" r="0.72" fill="#ffc805"/><circle cx="331.3" cy="217.2" r="0.72" fill="#ffb414"/><circle cx="341.0" cy="209.6" r="0.72" fill="#ffb414"/><circle cx="345.0" cy="207.7" r="0.72" fill="#ffb414"/><circle cx="346.0" cy="211.6" r="0.72" fill="#ff8c14"/><circle cx="340.6" cy="211.3" r="0.72" fill="#ffb414"/><circle cx="331.1" cy="207.7" r="0.72" fill="#d2c814"/><circle cx="335.9" cy="216.3" r="0.72" fill="#ffb414"/><circle cx="325.4" cy="225.2" r="0.72" fill="#ffb414"/><circle cx="339.7" cy="208.9" r="0.72" fill="#ffb414"/><circle cx="323.6" cy="217.7" r="0.72" fill="#ffc805"/><circle cx="330.7" cy="213.8" r="0.72" fill="#ffc805"/><circle cx="341.3" cy="213.3" r="0.72" fill="#ff8c14"/><circle cx="323.6" cy="216.1" r="0.72" fill="#ffc805"/><circle cx="329.9" cy="219.0" r="0.72" fill="#ffb414"/><circle cx="334.3" cy="217.6" r="0.72" fill="#ffb414"/><circle cx="321.7" cy="223.4" r="0.72" fill="#ffc805"/><circle cx="342.7" cy="208.6" r="0.72" fill="#ffb414"/><circle cx="335.8" cy="209.7" r="0.72" fill="#ffc805"/><circle cx="320.2" cy="219.6" r="0.72" fill="#ffc805"/><circle cx="332.6" cy="214.5" r="0.72" fill="#ffb414"/><circle cx="326.5" cy="214.6" r="0.72" fill="#ffc805"/><circle cx="327.4" cy="217.3" r="0.72" fill="#ffc805"/><circle cx="333.6" cy="210.4" r="0.72" fill="#ffc805"/><circle cx="327.0" cy="223.2" r="0.72" fill="#ffb414"/><circle cx="341.0" cy="215.1" r="0.72" fill="#ff8c14"/><circle cx="327.0" cy="214.9" r="0.72" fill="#ffc805"/><circle cx="341.2" cy="214.4" r="0.72" fill="#ff8c14"/><circle cx="332.6" cy="215.5" r="0.72" fill="#ffb414"/><circle cx="340.1" cy="210.1" r="0.72" fill="#ffb414"/><circle cx="328.4" cy="218.8" r="0.72" fill="#ffb414"/><circle cx="328.7" cy="218.5" r="0.72" fill="#ffb414"/><circle cx="323.3" cy="214.8" r="0.72" fill="#d2c814"/><circle cx="337.8" cy="220.8" r="0.72" fill="#ff8c14"/><circle cx="340.8" cy="206.0" r="0.72" fill="#ffc805"/><circle cx="350.7" cy="194.5" r="0.72" fill="#ffc805"/><circle cx="343.8" cy="207.4" r="0.72" fill="#ffb414"/><circle cx="335.0" cy="212.9" r="0.72" fill="#ffb414"/><circle cx="331.2" cy="212.5" r="0.72" fill="#ffc805"/><circle cx="336.2" cy="205.2" r="0.72" fill="#ffc805"/><circle cx="332.7" cy="218.8" r="0.72" fill="#ffb414"/><circle cx="345.2" cy="206.3" r="0.72" fill="#ffb414"/><circle cx="340.9" cy="210.0" r="0.72" fill="#ffb414"/><circle cx="325.9" cy="216.4" r="0.72" fill="#ffc805"/><circle cx="327.2" cy="217.1" r="0.72" fill="#ffc805"/><circle cx="344.4" cy="204.6" r="0.72" fill="#ffb414"/><circle cx="335.5" cy="214.2" r="0.72" fill="#ffb414"/><circle cx="331.0" cy="215.2" r="0.72" fill="#ffc805"/><circle cx="342.9" cy="210.6" r="0.72" fill="#ffb414"/><circle cx="329.7" cy="218.7" r="0.72" fill="#ffb414"/><circle cx="330.6" cy="216.1" r="0.72" fill="#ffb414"/><circle cx="329.1" cy="217.1" r="0.72" fill="#ffc805"/><circle cx="342.2" cy="212.9" r="0.72" fill="#ff8c14"/><circle cx="340.2" cy="203.7" r="0.72" fill="#ffc805"/><circle cx="322.8" cy="220.9" r="0.72" fill="#ffc805"/><circle cx="328.2" cy="222.4" r="0.72" fill="#ffb414"/><circle cx="326.7" cy="213.8" r="0.72" fill="#ffc805"/><circle cx="339.0" cy="213.2" r="0.72" fill="#ffb414"/><circle cx="332.4" cy="212.6" r="0.72" fill="#ffc805"/><circle cx="333.1" cy="214.2" r="0.72" fill="#ffb414"/><circle cx="318.9" cy="221.9" r="0.72" fill="#ffc805"/><circle cx="332.2" cy="214.0" r="0.72" fill="#ffc805"/><circle cx="320.6" cy="224.0" r="0.72" fill="#ffc805"/><circle cx="335.5" cy="212.4" r="0.72" fill="#ffb414"/><circle cx="336.0" cy="204.6" r="0.72" fill="#ffc805"/><circle cx="332.8" cy="222.7" r="0.72" fill="#ff8c14"/><circle cx="350.1" cy="203.3" r="0.72" fill="#ffb414"/><circle cx="337.4" cy="209.8" r="0.72" fill="#ffb414"/><circle cx="337.9" cy="215.1" r="0.72" fill="#ffb414"/><circle cx="360.2" cy="199.9" r="0.72" fill="#ff8c14"/><circle cx="356.3" cy="214.6" r="0.84" fill="#ff3c1e"/><circle cx="369.3" cy="205.2" r="0.84" fill="#ff3c1e"/><circle cx="385.9" cy="198.9" r="0.84" fill="#ff1a0a"/><circle cx="351.2" cy="207.0" r="0.72" fill="#ff8c14"/><circle cx="349.7" cy="210.0" r="0.72" fill="#ff8c14"/><circle cx="348.2" cy="211.5" r="0.72" fill="#ff8c14"/><circle cx="345.9" cy="212.3" r="0.72" fill="#ff8c14"/></g>
<path d="M318.0 221.5 L320.9 220.0 L323.7 218.7 L326.6 217.4 L329.4 216.2 L332.3 214.9 L335.1 213.7 L338.0 212.5 L340.8 211.2 L343.6 210.0 L346.5 208.8 L349.3 207.6 L352.2 206.4 L355.0 205.2 L357.9 204.1 L360.7 202.9 L363.6 201.7 L366.4 200.5 L369.3 199.4 L372.1 198.2 L375.0 197.0 L377.8 195.9 L380.7 194.7 L383.5 193.6 L386.4 192.4" fill="none" stroke="#2ec6f2" stroke-width="0.95" stroke-dasharray="2.6 2.3" clip-path="url(#cpg)"/>
<rect x="297.9" y="134.9" width="114.3" height="113.8" fill="none" stroke="#878787" stroke-width="1.05"/>
<path d="M336.0 248.7v-1.7M297.9 210.8h1.7M374.1 248.7v-1.7M297.9 172.8h1.7" stroke="#555" stroke-width="0.6" fill="none"/>
<text x="297.9" y="255.7" font-size="5.7" stroke-width="0.03" fill="#1a1a1a" text-anchor="middle">0</text>
<text x="295.5" y="250.6" font-size="5.7" stroke-width="0.03" fill="#1a1a1a" text-anchor="end">0</text>
<text x="336.0" y="255.7" font-size="5.7" stroke-width="0.03" fill="#1a1a1a" text-anchor="middle">50</text>
<text x="295.5" y="212.7" font-size="5.7" stroke-width="0.03" fill="#1a1a1a" text-anchor="end">50</text>
<text x="374.1" y="255.7" font-size="5.7" stroke-width="0.03" fill="#1a1a1a" text-anchor="middle">100</text>
<text x="295.5" y="174.7" font-size="5.7" stroke-width="0.03" fill="#1a1a1a" text-anchor="end">100</text>
<text x="412.2" y="255.7" font-size="5.7" stroke-width="0.03" fill="#1a1a1a" text-anchor="middle">150</text>
<text x="295.5" y="136.8" font-size="5.7" stroke-width="0.03" fill="#1a1a1a" text-anchor="end">150</text>
<text x="300.1" y="147.0" font-size="11">(g)</text>
<text x="300.8" y="157.5" font-size="7.85" letter-spacing="0.3">2014-WC</text>
<text x="300.8" y="166.6" font-size="7.85">Model: RF</text>
<text x="342.5" y="237.6" font-size="7.85">RMSE = 16.20 t/ha</text>
<text x="342.5" y="246.7" font-size="7.85">R<tspan font-size="5.7" dy="-2.9">2</tspan><tspan dy="2.9"> = 0.48</tspan></text>
<text x="360.9" y="270.3" font-size="9.05" text-anchor="middle">Measured AGB (t/ha)</text>
</g>
<g>
<clipPath id="cph"><rect x="427.9" y="134.9" width="114.3" height="113.8"/></clipPath>
<line x1="427.9" y1="248.7" x2="542.2" y2="134.9" stroke="#262626" stroke-width="0.95" stroke-dasharray="1.8 1.9"/>
<g stroke="none" clip-path="url(#cph)"><circle cx="450.2" cy="220.2" r="0.72" fill="#ffc805"/><circle cx="477.1" cy="204.6" r="0.72" fill="#ffb414"/><circle cx="457.8" cy="217.1" r="0.72" fill="#ffc805"/><circle cx="476.5" cy="210.1" r="0.72" fill="#ff8c14"/><circle cx="464.7" cy="214.4" r="0.72" fill="#ffb414"/><circle cx="461.2" cy="216.8" r="0.72" fill="#ffb414"/><circle cx="464.3" cy="213.0" r="0.72" fill="#ffb414"/><circle cx="465.5" cy="213.6" r="0.72" fill="#ffb414"/><circle cx="469.7" cy="208.1" r="0.72" fill="#ffb414"/><circle cx="464.0" cy="212.7" r="0.72" fill="#ffc805"/><circle cx="461.8" cy="213.6" r="0.72" fill="#ffc805"/><circle cx="462.0" cy="215.4" r="0.72" fill="#ffb414"/><circle cx="471.0" cy="215.1" r="0.72" fill="#ff8c14"/><circle cx="466.9" cy="213.3" r="0.72" fill="#ffb414"/><circle cx="453.0" cy="220.1" r="0.72" fill="#ffc805"/><circle cx="455.8" cy="214.8" r="0.72" fill="#ffc805"/><circle cx="463.2" cy="214.5" r="0.72" fill="#ffb414"/><circle cx="455.9" cy="213.0" r="0.72" fill="#d2c814"/><circle cx="457.8" cy="214.6" r="0.72" fill="#ffc805"/><circle cx="453.4" cy="215.9" r="0.72" fill="#ffc805"/><circle cx="458.7" cy="215.5" r="0.72" fill="#ffc805"/><circle cx="463.9" cy="213.7" r="0.72" fill="#ffb414"/><circle cx="468.2" cy="211.0" r="0.72" fill="#ffb414"/><circle cx="460.7" cy="213.1" r="0.72" fill="#ffc805"/><circle cx="476.5" cy="211.4" r="0.72" fill="#ff8c14"/><circle cx="460.1" cy="214.3" r="0.72" fill="#ffc805"/><circle cx="453.2" cy="211.7" r="0.72" fill="#d2c814"/><circle cx="468.3" cy="212.8" r="0.72" fill="#ffb414"/><circle cx="464.5" cy="214.6" r="0.72" fill="#ffb414"/><circle cx="456.9" cy="218.4" r="0.72" fill="#ffc805"/><circle cx="464.3" cy="217.6" r="0.72" fill="#ffb414"/><circle cx="459.5" cy="212.9" r="0.72" fill="#ffc805"/><circle cx="462.0" cy="214.7" r="0.72" fill="#ffc805"/><circle cx="475.3" cy="209.4" r="0.72" fill="#ff8c14"/><circle cx="450.2" cy="214.6" r="0.72" fill="#d2c814"/><circle cx="475.2" cy="204.0" r="0.72" fill="#ffb414"/><circle cx="458.8" cy="218.2" r="0.72" fill="#ffb414"/><circle cx="466.2" cy="210.8" r="0.72" fill="#ffb414"/><circle cx="468.5" cy="211.0" r="0.72" fill="#ffb414"/><circle cx="461.7" cy="214.0" r="0.72" fill="#ffc805"/><circle cx="458.0" cy="215.1" r="0.72" fill="#ffc805"/><circle cx="465.9" cy="213.5" r="0.72" fill="#ffb414"/><circle cx="461.4" cy="211.2" r="0.72" fill="#ffc805"/><circle cx="452.0" cy="217.0" r="0.72" fill="#d2c814"/><circle cx="467.9" cy="211.9" r="0.72" fill="#ffb414"/><circle cx="466.0" cy="210.4" r="0.72" fill="#ffc805"/><circle cx="465.2" cy="211.5" r="0.72" fill="#ffc805"/><circle cx="468.4" cy="211.5" r="0.72" fill="#ffb414"/><circle cx="469.1" cy="211.5" r="0.72" fill="#ffb414"/><circle cx="460.5" cy="211.1" r="0.72" fill="#ffc805"/><circle cx="450.3" cy="217.8" r="0.72" fill="#d2c814"/><circle cx="450.1" cy="219.3" r="0.72" fill="#ffc805"/><circle cx="471.0" cy="213.7" r="0.72" fill="#ff8c14"/><circle cx="466.1" cy="214.2" r="0.72" fill="#ffb414"/><circle cx="461.4" cy="217.6" r="0.72" fill="#ffb414"/><circle cx="457.4" cy="216.3" r="0.72" fill="#ffc805"/><circle cx="460.9" cy="214.6" r="0.72" fill="#ffc805"/><circle cx="460.9" cy="220.2" r="0.72" fill="#ffb414"/><circle cx="458.1" cy="216.2" r="0.72" fill="#ffc805"/><circle cx="455.3" cy="215.7" r="0.72" fill="#ffc805"/><circle cx="477.2" cy="209.0" r="0.72" fill="#ff8c14"/><circle cx="462.4" cy="217.0" r="0.72" fill="#ffb414"/><circle cx="456.0" cy="213.9" r="0.72" fill="#ffc805"/><circle cx="450.7" cy="220.6" r="0.72" fill="#ffc805"/><circle cx="455.1" cy="220.3" r="0.72" fill="#ffc805"/><circle cx="466.2" cy="216.0" r="0.72" fill="#ffb414"/><circle cx="466.4" cy="213.3" r="0.72" fill="#ffb414"/><circle cx="459.0" cy="213.5" r="0.72" fill="#ffc805"/><circle cx="461.1" cy="212.4" r="0.72" fill="#ffc805"/><circle cx="458.3" cy="215.7" r="0.72" fill="#ffc805"/><circle cx="452.2" cy="221.3" r="0.72" fill="#ffc805"/><circle cx="470.6" cy="213.4" r="0.72" fill="#ffb414"/><circle cx="463.5" cy="216.5" r="0.72" fill="#ffb414"/><circle cx="479.5" cy="209.0" r="0.72" fill="#ff8c14"/><circle cx="454.9" cy="221.7" r="0.72" fill="#ffc805"/><circle cx="459.6" cy="215.4" r="0.72" fill="#ffc805"/><circle cx="467.4" cy="211.4" r="0.72" fill="#ffb414"/><circle cx="458.8" cy="216.4" r="0.72" fill="#ffc805"/><circle cx="450.1" cy="218.0" r="0.72" fill="#d2c814"/><circle cx="453.4" cy="220.2" r="0.72" fill="#ffc805"/><circle cx="461.4" cy="218.6" r="0.72" fill="#ffb414"/><circle cx="463.3" cy="215.9" r="0.72" fill="#ffb414"/><circle cx="459.9" cy="212.8" r="0.72" fill="#ffc805"/><circle cx="468.3" cy="210.1" r="0.72" fill="#ffb414"/><circle cx="468.2" cy="213.7" r="0.72" fill="#ffb414"/><circle cx="463.1" cy="211.5" r="0.72" fill="#ffc805"/><circle cx="460.9" cy="216.0" r="0.72" fill="#ffb414"/><circle cx="458.7" cy="212.4" r="0.72" fill="#ffc805"/><circle cx="464.9" cy="212.7" r="0.72" fill="#ffb414"/><circle cx="467.7" cy="213.9" r="0.72" fill="#ffb414"/><circle cx="461.1" cy="213.2" r="0.72" fill="#ffc805"/><circle cx="464.1" cy="216.0" r="0.72" fill="#ffb414"/><circle cx="458.2" cy="218.5" r="0.72" fill="#ffc805"/><circle cx="449.9" cy="222.7" r="0.72" fill="#ffc805"/><circle cx="453.0" cy="217.4" r="0.72" fill="#ffc805"/><circle cx="466.5" cy="213.4" r="0.72" fill="#ffb414"/><circle cx="464.1" cy="214.3" r="0.72" fill="#ffb414"/><circle cx="472.8" cy="212.0" r="0.72" fill="#ff8c14"/><circle cx="461.1" cy="211.7" r="0.72" fill="#ffc805"/><circle cx="467.3" cy="214.0" r="0.72" fill="#ffb414"/><circle cx="470.7" cy="213.5" r="0.72" fill="#ffb414"/><circle cx="468.2" cy="209.6" r="0.72" fill="#ffb414"/><circle cx="456.0" cy="213.5" r="0.72" fill="#ffc805"/><circle cx="459.3" cy="215.0" r="0.72" fill="#ffc805"/><circle cx="461.7" cy="219.2" r="0.72" fill="#ffb414"/><circle cx="475.1" cy="215.3" r="0.72" fill="#ff8c14"/><circle cx="478.2" cy="214.6" r="0.72" fill="#ff5a14"/><circle cx="479.7" cy="209.2" r="0.72" fill="#ff8c14"/><circle cx="482.8" cy="210.8" r="0.72" fill="#ff5a14"/><circle cx="484.3" cy="205.5" r="0.72" fill="#ff8c14"/><circle cx="487.3" cy="204.7" r="0.72" fill="#ff8c14"/><circle cx="481.2" cy="207.0" r="0.72" fill="#ff8c14"/><circle cx="473.6" cy="216.8" r="0.72" fill="#ff8c14"/><circle cx="476.7" cy="213.0" r="0.72" fill="#ff8c14"/><circle cx="507.6" cy="202.0" r="0.84" fill="#ff1a0a"/></g>
<path d="M448.0 219.8 L450.5 218.9 L453.0 218.1 L455.5 217.3 L457.9 216.5 L460.4 215.8 L462.9 215.0 L465.4 214.2 L467.9 213.5 L470.4 212.7 L472.8 212.0 L475.3 211.3 L477.8 210.5 L480.3 209.8 L482.8 209.1 L485.3 208.3 L487.7 207.6 L490.2 206.9 L492.7 206.2 L495.2 205.5 L497.7 204.7 L500.2 204.0 L502.6 203.3 L505.1 202.6 L507.6 201.9" fill="none" stroke="#2ec6f2" stroke-width="0.95" stroke-dasharray="2.6 2.3" clip-path="url(#cph)"/>
<rect x="427.9" y="134.9" width="114.3" height="113.8" fill="none" stroke="#878787" stroke-width="1.05"/>
<path d="M466.0 248.7v-1.7M427.9 210.8h1.7M504.1 248.7v-1.7M427.9 172.8h1.7" stroke="#555" stroke-width="0.6" fill="none"/>
<text x="427.9" y="255.7" font-size="5.7" stroke-width="0.03" fill="#1a1a1a" text-anchor="middle">0</text>
<text x="425.5" y="250.6" font-size="5.7" stroke-width="0.03" fill="#1a1a1a" text-anchor="end">0</text>
<text x="466.0" y="255.7" font-size="5.7" stroke-width="0.03" fill="#1a1a1a" text-anchor="middle">50</text>
<text x="425.5" y="212.7" font-size="5.7" stroke-width="0.03" fill="#1a1a1a" text-anchor="end">50</text>
<text x="504.1" y="255.7" font-size="5.7" stroke-width="0.03" fill="#1a1a1a" text-anchor="middle">100</text>
<text x="425.5" y="174.7" font-size="5.7" stroke-width="0.03" fill="#1a1a1a" text-anchor="end">100</text>
<text x="542.2" y="255.7" font-size="5.7" stroke-width="0.03" fill="#1a1a1a" text-anchor="middle">150</text>
<text x="425.5" y="136.8" font-size="5.7" stroke-width="0.03" fill="#1a1a1a" text-anchor="end">150</text>
<text x="430.1" y="147.0" font-size="11">(h)</text>
<text x="430.8" y="157.5" font-size="7.85" letter-spacing="0.3">2014-NX</text>
<text x="430.8" y="166.6" font-size="7.85">Model: RF</text>
<text x="471.7" y="237.3" font-size="7.85">RMSE = 13.75 t/ha</text>
<text x="471.7" y="246.4" font-size="7.85">R<tspan font-size="5.7" dy="-2.9">2</tspan><tspan dy="2.9"> = 0.52</tspan></text>
<text x="485.0" y="270.3" font-size="9.05" text-anchor="middle">Measured AGB (t/ha)</text>
</g>
<g>
<clipPath id="cpi"><rect x="30.1" y="263.4" width="114.3" height="113.9"/></clipPath>
<line x1="30.1" y1="377.3" x2="144.4" y2="263.4" stroke="#262626" stroke-width="0.95" stroke-dasharray="1.8 1.9"/>
<g stroke="none" clip-path="url(#cpi)"><circle cx="53.1" cy="350.3" r="0.72" fill="#ffc805"/><circle cx="56.6" cy="348.7" r="0.72" fill="#ffc805"/><circle cx="60.6" cy="343.8" r="0.72" fill="#ffc805"/><circle cx="56.8" cy="348.8" r="0.72" fill="#ffc805"/><circle cx="65.4" cy="343.4" r="0.72" fill="#ffb414"/><circle cx="62.9" cy="344.5" r="0.72" fill="#ffc805"/><circle cx="64.8" cy="343.3" r="0.72" fill="#ffb414"/><circle cx="60.2" cy="346.4" r="0.72" fill="#ffc805"/><circle cx="62.4" cy="342.8" r="0.72" fill="#ffc805"/><circle cx="65.3" cy="343.3" r="0.72" fill="#ffb414"/><circle cx="52.0" cy="350.2" r="0.72" fill="#ffc805"/><circle cx="59.8" cy="346.3" r="0.72" fill="#ffc805"/><circle cx="54.2" cy="351.3" r="0.72" fill="#ffc805"/><circle cx="63.0" cy="346.1" r="0.72" fill="#ffb414"/><circle cx="54.9" cy="351.0" r="0.72" fill="#ffc805"/><circle cx="62.2" cy="344.5" r="0.72" fill="#ffc805"/><circle cx="56.3" cy="349.6" r="0.72" fill="#ffc805"/><circle cx="60.9" cy="347.7" r="0.72" fill="#ffb414"/><circle cx="61.3" cy="344.9" r="0.72" fill="#ffc805"/><circle cx="64.6" cy="342.6" r="0.72" fill="#ffc805"/><circle cx="64.1" cy="347.4" r="0.72" fill="#ffb414"/><circle cx="57.8" cy="344.0" r="0.72" fill="#ffc805"/><circle cx="61.5" cy="345.3" r="0.72" fill="#ffc805"/><circle cx="54.1" cy="349.6" r="0.72" fill="#ffc805"/><circle cx="52.9" cy="347.9" r="0.72" fill="#ffc805"/><circle cx="61.8" cy="345.0" r="0.72" fill="#ffc805"/><circle cx="64.6" cy="344.8" r="0.72" fill="#ffb414"/><circle cx="62.3" cy="340.5" r="0.72" fill="#ffc805"/><circle cx="59.0" cy="348.8" r="0.72" fill="#ffb414"/><circle cx="60.6" cy="346.0" r="0.72" fill="#ffc805"/><circle cx="62.1" cy="343.3" r="0.72" fill="#ffc805"/><circle cx="59.7" cy="348.4" r="0.72" fill="#ffb414"/><circle cx="56.7" cy="348.1" r="0.72" fill="#ffc805"/><circle cx="63.8" cy="343.3" r="0.72" fill="#ffc805"/><circle cx="56.8" cy="343.1" r="0.72" fill="#ffc805"/><circle cx="64.6" cy="345.4" r="0.72" fill="#ffb414"/><circle cx="63.1" cy="344.6" r="0.72" fill="#ffb414"/><circle cx="63.0" cy="343.2" r="0.72" fill="#ffc805"/><circle cx="63.6" cy="344.0" r="0.72" fill="#ffb414"/><circle cx="65.8" cy="345.3" r="0.72" fill="#ffb414"/><circle cx="65.8" cy="342.1" r="0.72" fill="#ffb414"/><circle cx="58.7" cy="346.6" r="0.72" fill="#ffc805"/><circle cx="56.9" cy="346.9" r="0.72" fill="#ffc805"/><circle cx="62.1" cy="342.7" r="0.72" fill="#ffc805"/><circle cx="65.5" cy="341.1" r="0.72" fill="#ffc805"/><circle cx="60.6" cy="345.0" r="0.72" fill="#ffc805"/><circle cx="72.0" cy="339.8" r="0.72" fill="#ffb414"/><circle cx="70.9" cy="337.4" r="0.72" fill="#ffb414"/><circle cx="69.1" cy="339.3" r="0.72" fill="#ffb414"/><circle cx="73.1" cy="340.4" r="0.72" fill="#ffb414"/><circle cx="67.4" cy="339.5" r="0.72" fill="#ffc805"/><circle cx="65.4" cy="338.3" r="0.72" fill="#ffc805"/><circle cx="75.2" cy="336.5" r="0.72" fill="#ffb414"/><circle cx="74.3" cy="334.6" r="0.72" fill="#ffb414"/><circle cx="72.3" cy="337.9" r="0.72" fill="#ffb414"/><circle cx="64.0" cy="340.1" r="0.72" fill="#ffc805"/><circle cx="62.1" cy="341.5" r="0.72" fill="#ffc805"/><circle cx="75.5" cy="335.4" r="0.72" fill="#ffb414"/><circle cx="75.8" cy="332.2" r="0.72" fill="#ffb414"/><circle cx="65.5" cy="338.8" r="0.72" fill="#ffc805"/><circle cx="71.0" cy="337.2" r="0.72" fill="#ffb414"/><circle cx="61.7" cy="342.1" r="0.72" fill="#ffc805"/><circle cx="67.4" cy="340.4" r="0.72" fill="#ffb414"/><circle cx="72.1" cy="334.3" r="0.72" fill="#ffc805"/><circle cx="66.9" cy="341.2" r="0.72" fill="#ffb414"/><circle cx="73.7" cy="338.5" r="0.72" fill="#ffb414"/><circle cx="75.3" cy="336.3" r="0.72" fill="#ffb414"/><circle cx="63.5" cy="341.1" r="0.72" fill="#ffc805"/><circle cx="71.9" cy="333.4" r="0.72" fill="#ffc805"/><circle cx="67.1" cy="343.6" r="0.72" fill="#ffb414"/><circle cx="64.0" cy="339.3" r="0.72" fill="#ffc805"/><circle cx="66.7" cy="337.7" r="0.72" fill="#ffc805"/><circle cx="68.7" cy="340.6" r="0.72" fill="#ffb414"/><circle cx="75.0" cy="337.5" r="0.72" fill="#ffb414"/><circle cx="73.1" cy="336.0" r="0.72" fill="#ffb414"/><circle cx="61.5" cy="337.7" r="0.72" fill="#d2c814"/><circle cx="62.3" cy="342.5" r="0.72" fill="#ffc805"/><circle cx="76.5" cy="338.8" r="0.72" fill="#ff8c14"/><circle cx="69.9" cy="336.1" r="0.72" fill="#ffc805"/><circle cx="70.7" cy="334.7" r="0.72" fill="#ffc805"/><circle cx="66.8" cy="339.8" r="0.72" fill="#ffc805"/><circle cx="74.1" cy="340.9" r="0.72" fill="#ffb414"/><circle cx="69.9" cy="335.1" r="0.72" fill="#ffc805"/><circle cx="70.4" cy="338.2" r="0.72" fill="#ffb414"/><circle cx="65.2" cy="337.4" r="0.72" fill="#ffc805"/><circle cx="73.2" cy="336.9" r="0.72" fill="#ffb414"/><circle cx="80.3" cy="329.3" r="0.72" fill="#ffb414"/><circle cx="83.9" cy="328.2" r="0.72" fill="#ffb414"/><circle cx="74.5" cy="339.7" r="0.72" fill="#ffb414"/><circle cx="70.5" cy="343.7" r="0.72" fill="#ffb414"/><circle cx="82.4" cy="341.0" r="0.72" fill="#ff5a14"/><circle cx="86.8" cy="338.1" r="0.72" fill="#ff5a14"/><circle cx="90.4" cy="339.8" r="0.84" fill="#ff5a14"/><circle cx="102.1" cy="331.8" r="0.84" fill="#ff3c1e"/><circle cx="77.4" cy="334.0" r="0.72" fill="#ffb414"/><circle cx="72.8" cy="342.4" r="0.72" fill="#ffb414"/><circle cx="68.2" cy="346.9" r="0.72" fill="#ffb414"/></g>
<path d="M50.4 349.3 L52.5 348.3 L54.6 347.4 L56.6 346.5 L58.7 345.6 L60.8 344.7 L62.9 343.8 L64.9 343.0 L67.0 342.1 L69.1 341.3 L71.2 340.4 L73.2 339.6 L75.3 338.7 L77.4 337.9 L79.4 337.1 L81.5 336.3 L83.6 335.4 L85.7 334.6 L87.7 333.8 L89.8 333.0 L91.9 332.2 L94.0 331.4 L96.0 330.5 L98.1 329.7 L100.2 328.9" fill="none" stroke="#2ec6f2" stroke-width="0.95" stroke-dasharray="2.6 2.3" clip-path="url(#cpi)"/>
<rect x="30.1" y="263.4" width="114.3" height="113.9" fill="none" stroke="#878787" stroke-width="1.05"/>
<path d="M68.2 377.3v-1.7M30.1 339.3h1.7M106.3 377.3v-1.7M30.1 301.4h1.7" stroke="#555" stroke-width="0.6" fill="none"/>
<text x="30.1" y="384.3" font-size="5.7" stroke-width="0.03" fill="#1a1a1a" text-anchor="middle">0</text>
<text x="27.8" y="379.2" font-size="5.7" stroke-width="0.03" fill="#1a1a1a" text-anchor="end">0</text>
<text x="68.2" y="384.3" font-size="5.7" stroke-width="0.03" fill="#1a1a1a" text-anchor="middle">50</text>
<text x="27.8" y="341.2" font-size="5.7" stroke-width="0.03" fill="#1a1a1a" text-anchor="end">50</text>
<text x="106.3" y="384.3" font-size="5.7" stroke-width="0.03" fill="#1a1a1a" text-anchor="middle">100</text>
<text x="27.8" y="303.3" font-size="5.7" stroke-width="0.03" fill="#1a1a1a" text-anchor="end">100</text>
<text x="144.4" y="384.3" font-size="5.7" stroke-width="0.03" fill="#1a1a1a" text-anchor="middle">150</text>
<text x="27.8" y="265.3" font-size="5.7" stroke-width="0.03" fill="#1a1a1a" text-anchor="end">150</text>
<text x="32.4" y="275.5" font-size="11">(i)</text>
<text x="33.0" y="286.0" font-size="7.85" letter-spacing="0.3">2014-NX</text>
<text x="33.0" y="295.1" font-size="7.85">Model: RF</text>
<text x="72.2" y="365.5" font-size="7.85">RMSE = 13.75 t/ha</text>
<text x="72.2" y="374.6" font-size="7.85">R<tspan font-size="5.7" dy="-2.9">2</tspan><tspan dy="2.9"> = 0.52</tspan></text>
<text x="83.8" y="393.6" font-size="9.05" text-anchor="middle">Measured AGB (t/ha)</text>
</g>
<g>
<clipPath id="cpj"><rect x="164.5" y="263.4" width="114.3" height="113.9"/></clipPath>
<line x1="164.5" y1="377.3" x2="278.8" y2="263.4" stroke="#262626" stroke-width="0.95" stroke-dasharray="1.8 1.9"/>
<g stroke="none" clip-path="url(#cpj)"><circle cx="194.7" cy="349.3" r="0.72" fill="#ffb414"/><circle cx="194.2" cy="348.3" r="0.72" fill="#ffb414"/><circle cx="207.4" cy="341.6" r="0.72" fill="#ffb414"/><circle cx="207.1" cy="335.6" r="0.72" fill="#ffb414"/><circle cx="197.0" cy="342.9" r="0.72" fill="#ffc805"/><circle cx="190.8" cy="346.5" r="0.72" fill="#ffc805"/><circle cx="209.5" cy="338.6" r="0.72" fill="#ffb414"/><circle cx="194.7" cy="348.4" r="0.72" fill="#ffb414"/><circle cx="187.9" cy="349.7" r="0.72" fill="#ffc805"/><circle cx="197.3" cy="343.9" r="0.72" fill="#ffc805"/><circle cx="196.5" cy="346.6" r="0.72" fill="#ffb414"/><circle cx="196.6" cy="344.2" r="0.72" fill="#ffc805"/><circle cx="194.0" cy="344.7" r="0.72" fill="#ffc805"/><circle cx="195.1" cy="344.9" r="0.72" fill="#ffc805"/><circle cx="194.1" cy="348.4" r="0.72" fill="#ffb414"/><circle cx="199.6" cy="347.5" r="0.72" fill="#ffb414"/><circle cx="191.7" cy="348.2" r="0.72" fill="#ffc805"/><circle cx="195.3" cy="345.0" r="0.72" fill="#ffc805"/><circle cx="196.3" cy="345.4" r="0.72" fill="#ffc805"/><circle cx="206.2" cy="339.6" r="0.72" fill="#ffb414"/><circle cx="199.8" cy="344.1" r="0.72" fill="#ffb414"/><circle cx="196.5" cy="343.0" r="0.72" fill="#ffc805"/><circle cx="200.9" cy="342.0" r="0.72" fill="#ffb414"/><circle cx="200.1" cy="342.1" r="0.72" fill="#ffb414"/><circle cx="204.7" cy="341.8" r="0.72" fill="#ffb414"/><circle cx="200.7" cy="343.4" r="0.72" fill="#ffb414"/><circle cx="209.6" cy="336.2" r="0.72" fill="#ffb414"/><circle cx="206.5" cy="340.7" r="0.72" fill="#ffb414"/><circle cx="197.0" cy="347.2" r="0.72" fill="#ffb414"/><circle cx="194.4" cy="346.7" r="0.72" fill="#ffc805"/><circle cx="203.3" cy="337.7" r="0.72" fill="#ffc805"/><circle cx="200.8" cy="341.5" r="0.72" fill="#ffb414"/><circle cx="196.6" cy="341.2" r="0.72" fill="#ffc805"/><circle cx="187.1" cy="350.7" r="0.72" fill="#ffc805"/><circle cx="200.1" cy="343.1" r="0.72" fill="#ffb414"/><circle cx="199.7" cy="345.8" r="0.72" fill="#ffb414"/><circle cx="202.6" cy="342.2" r="0.72" fill="#ffb414"/><circle cx="202.8" cy="337.5" r="0.72" fill="#ffc805"/><circle cx="188.4" cy="348.9" r="0.72" fill="#ffc805"/><circle cx="204.4" cy="338.1" r="0.72" fill="#ffb414"/><circle cx="193.6" cy="344.8" r="0.72" fill="#ffc805"/><circle cx="199.9" cy="342.5" r="0.72" fill="#ffb414"/><circle cx="200.1" cy="342.8" r="0.72" fill="#ffb414"/><circle cx="191.8" cy="347.3" r="0.72" fill="#ffc805"/><circle cx="193.2" cy="345.1" r="0.72" fill="#ffc805"/><circle cx="190.3" cy="347.4" r="0.72" fill="#ffc805"/><circle cx="191.0" cy="346.9" r="0.72" fill="#ffc805"/><circle cx="199.6" cy="342.3" r="0.72" fill="#ffb414"/><circle cx="200.3" cy="344.0" r="0.72" fill="#ffb414"/><circle cx="197.7" cy="344.5" r="0.72" fill="#ffb414"/><circle cx="203.5" cy="342.4" r="0.72" fill="#ffb414"/><circle cx="199.7" cy="340.3" r="0.72" fill="#ffc805"/><circle cx="192.9" cy="351.6" r="0.72" fill="#ffb414"/><circle cx="199.6" cy="343.2" r="0.72" fill="#ffb414"/><circle cx="194.6" cy="340.4" r="0.72" fill="#ffc805"/><circle cx="201.4" cy="342.3" r="0.72" fill="#ffb414"/><circle cx="199.4" cy="345.4" r="0.72" fill="#ffb414"/><circle cx="190.5" cy="348.4" r="0.72" fill="#ffc805"/><circle cx="197.3" cy="341.2" r="0.72" fill="#ffc805"/><circle cx="197.6" cy="344.3" r="0.72" fill="#ffb414"/><circle cx="195.2" cy="344.1" r="0.72" fill="#ffc805"/><circle cx="203.4" cy="340.1" r="0.72" fill="#ffb414"/><circle cx="209.0" cy="337.7" r="0.72" fill="#ffb414"/><circle cx="194.7" cy="338.5" r="0.72" fill="#d2c814"/><circle cx="194.9" cy="345.5" r="0.72" fill="#ffc805"/><circle cx="205.8" cy="340.1" r="0.72" fill="#ffb414"/><circle cx="196.4" cy="345.8" r="0.72" fill="#ffb414"/><circle cx="194.3" cy="345.1" r="0.72" fill="#ffc805"/><circle cx="204.6" cy="338.7" r="0.72" fill="#ffb414"/><circle cx="199.2" cy="341.2" r="0.72" fill="#ffc805"/><circle cx="201.3" cy="341.3" r="0.72" fill="#ffb414"/><circle cx="192.2" cy="350.5" r="0.72" fill="#ffb414"/><circle cx="194.7" cy="344.5" r="0.72" fill="#ffc805"/><circle cx="190.6" cy="348.9" r="0.72" fill="#ffc805"/><circle cx="202.5" cy="341.6" r="0.72" fill="#ffb414"/><circle cx="186.9" cy="354.0" r="0.72" fill="#ffc805"/><circle cx="195.1" cy="346.8" r="0.72" fill="#ffc805"/><circle cx="210.6" cy="337.5" r="0.72" fill="#ffb414"/><circle cx="197.6" cy="344.0" r="0.72" fill="#ffc805"/><circle cx="200.5" cy="345.5" r="0.72" fill="#ffb414"/><circle cx="196.3" cy="344.7" r="0.72" fill="#ffc805"/><circle cx="189.2" cy="348.8" r="0.72" fill="#ffc805"/><circle cx="186.7" cy="349.3" r="0.72" fill="#ffc805"/><circle cx="191.6" cy="349.6" r="0.72" fill="#ffc805"/><circle cx="196.4" cy="349.0" r="0.72" fill="#ffb414"/><circle cx="188.4" cy="351.6" r="0.72" fill="#ffc805"/><circle cx="187.1" cy="351.6" r="0.72" fill="#ffc805"/><circle cx="188.9" cy="349.7" r="0.72" fill="#ffc805"/><circle cx="189.5" cy="350.7" r="0.72" fill="#ffc805"/><circle cx="188.9" cy="350.8" r="0.72" fill="#ffc805"/><circle cx="190.4" cy="350.2" r="0.72" fill="#ffc805"/><circle cx="194.7" cy="350.9" r="0.72" fill="#ffb414"/><circle cx="191.4" cy="349.7" r="0.72" fill="#ffc805"/><circle cx="192.1" cy="350.2" r="0.72" fill="#ffb414"/><circle cx="215.0" cy="344.5" r="0.72" fill="#ff5a14"/><circle cx="219.4" cy="339.9" r="0.72" fill="#ff5a14"/><circle cx="221.3" cy="338.4" r="0.72" fill="#ff5a14"/><circle cx="245.1" cy="335.8" r="0.84" fill="#ff0000"/><circle cx="217.5" cy="334.4" r="0.72" fill="#ff8c14"/><circle cx="213.5" cy="335.8" r="0.72" fill="#ffb414"/><circle cx="208.2" cy="336.3" r="0.72" fill="#ffb414"/><circle cx="210.1" cy="335.5" r="0.72" fill="#ffb414"/><circle cx="208.7" cy="343.9" r="0.72" fill="#ff8c14"/><circle cx="210.2" cy="341.6" r="0.72" fill="#ff8c14"/><circle cx="211.7" cy="340.1" r="0.72" fill="#ff8c14"/><circle cx="206.4" cy="345.4" r="0.72" fill="#ff8c14"/></g>
<path d="M184.7 347.8 L187.2 346.9 L189.8 346.1 L192.3 345.2 L194.9 344.4 L197.4 343.6 L200.0 342.8 L202.5 342.0 L205.1 341.2 L207.6 340.4 L210.2 339.6 L212.7 338.8 L215.3 338.1 L217.8 337.3 L220.4 336.5 L222.9 335.7 L225.5 335.0 L228.0 334.2 L230.6 333.5 L233.1 332.7 L235.7 331.9 L238.2 331.2 L240.8 330.4 L243.3 329.7 L245.9 328.9" fill="none" stroke="#2ec6f2" stroke-width="0.95" stroke-dasharray="2.6 2.3" clip-path="url(#cpj)"/>
<rect x="164.5" y="263.4" width="114.3" height="113.9" fill="none" stroke="#878787" stroke-width="1.05"/>
<path d="M202.6 377.3v-1.7M164.5 339.3h1.7M240.7 377.3v-1.7M164.5 301.4h1.7" stroke="#555" stroke-width="0.6" fill="none"/>
<text x="164.5" y="384.3" font-size="5.7" stroke-width="0.03" fill="#1a1a1a" text-anchor="middle">0</text>
<text x="162.1" y="379.2" font-size="5.7" stroke-width="0.03" fill="#1a1a1a" text-anchor="end">0</text>
<text x="202.6" y="384.3" font-size="5.7" stroke-width="0.03" fill="#1a1a1a" text-anchor="middle">50</text>
<text x="162.1" y="341.2" font-size="5.7" stroke-width="0.03" fill="#1a1a1a" text-anchor="end">50</text>
<text x="240.7" y="384.3" font-size="5.7" stroke-width="0.03" fill="#1a1a1a" text-anchor="middle">100</text>
<text x="162.1" y="303.3" font-size="5.7" stroke-width="0.03" fill="#1a1a1a" text-anchor="end">100</text>
<text x="278.8" y="384.3" font-size="5.7" stroke-width="0.03" fill="#1a1a1a" text-anchor="middle">150</text>
<text x="162.1" y="265.3" font-size="5.7" stroke-width="0.03" fill="#1a1a1a" text-anchor="end">150</text>
<text x="166.7" y="275.5" font-size="11">(j)</text>
<text x="167.4" y="286.0" font-size="7.85" letter-spacing="0.3">2014-WC</text>
<text x="167.4" y="295.1" font-size="7.85">Model: KNN</text>
<text x="208.9" y="365.5" font-size="7.85">RMSE = 12.83 t/ha</text>
<text x="208.9" y="374.6" font-size="7.85">R<tspan font-size="5.7" dy="-2.9">2</tspan><tspan dy="2.9"> = 0.51</tspan></text>
<text x="221.5" y="396.0" font-size="9.05" text-anchor="middle">Measured AGB (t/ha)</text>
</g>
<text transform="translate(12.5 65.0) rotate(-90)" font-size="9.3" text-anchor="middle">Predicted AGB (t/ha)</text>
<text transform="translate(12.2 184.6) rotate(-90)" font-size="9.3" text-anchor="middle">Predicted AGB (t/ha)</text>
<text transform="translate(10.0 315.6) rotate(-90)" font-size="9.3" text-anchor="middle">Predicted AGB (t/ha)</text>
<rect x="310.00" y="320.4" width="18.88" height="5.9" fill="#ff0000" stroke="none"/>
<rect x="328.58" y="320.4" width="18.88" height="5.9" fill="#ff1a0a" stroke="none"/>
<rect x="347.17" y="320.4" width="18.88" height="5.9" fill="#ff3c1e" stroke="none"/>
<rect x="365.75" y="320.4" width="18.88" height="5.9" fill="#ff5a14" stroke="none"/>
<rect x="384.33" y="320.4" width="18.88" height="5.9" fill="#ff8c14" stroke="none"/>
<rect x="402.92" y="320.4" width="18.88" height="5.9" fill="#ffb414" stroke="none"/>
<rect x="421.50" y="320.4" width="18.88" height="5.9" fill="#ffc805" stroke="none"/>
<rect x="440.08" y="320.4" width="18.88" height="5.9" fill="#d2c814" stroke="none"/>
<rect x="458.67" y="320.4" width="18.88" height="5.9" fill="#96b41e" stroke="none"/>
<rect x="477.25" y="320.4" width="18.88" height="5.9" fill="#3c8c28" stroke="none"/>
<rect x="495.83" y="320.4" width="18.88" height="5.9" fill="#0a6e32" stroke="none"/>
<rect x="514.42" y="320.4" width="18.88" height="5.9" fill="#0a5a1e" stroke="none"/>
<text x="318.4" y="332.5" font-size="7.0" stroke-width="0.04" text-anchor="middle" word-spacing="-1.7">&lt; −50</text>
<text x="336.5" y="332.5" font-size="7.0" stroke-width="0.04" text-anchor="middle">−50</text>
<text x="355.6" y="332.5" font-size="7.0" stroke-width="0.04" text-anchor="middle">−40</text>
<text x="374.6" y="332.5" font-size="7.0" stroke-width="0.04" text-anchor="middle">−30</text>
<text x="393.6" y="332.5" font-size="7.0" stroke-width="0.04" text-anchor="middle">−20</text>
<text x="411.8" y="332.5" font-size="7.0" stroke-width="0.04" text-anchor="middle">−10</text>
<text x="433.2" y="332.5" font-size="7.0" stroke-width="0.04" text-anchor="middle">10</text>
<text x="451.6" y="332.5" font-size="7.0" stroke-width="0.04" text-anchor="middle">20</text>
<text x="470.3" y="332.5" font-size="7.0" stroke-width="0.04" text-anchor="middle">30</text>
<text x="489.5" y="332.5" font-size="7.0" stroke-width="0.04" text-anchor="middle">40</text>
<text x="507.4" y="332.5" font-size="7.0" stroke-width="0.04" text-anchor="middle">50</text>
<text x="524" y="332.5" font-size="7.0" stroke-width="0.04" text-anchor="middle" word-spacing="-0.4">&gt; 50</text>
<text x="426.8" y="342.9" font-size="7.85" text-anchor="middle">Residual (t/ha)</text>
</svg>
</body></html>
